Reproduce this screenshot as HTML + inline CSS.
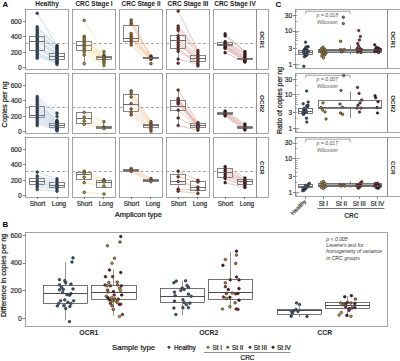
<!DOCTYPE html>
<html><head><meta charset="utf-8"><style>
html,body{margin:0;padding:0;background:#fff;width:400px;height:361px;overflow:hidden}
svg{display:block}
text{font-family:"Liberation Sans",sans-serif}
</style></head><body>
<svg width="400" height="361" viewBox="0 0 400 361">
<rect width="400" height="361" fill="#fff"/>
<rect x="25.50" y="9.50" width="43.00" height="60.00" fill="none" stroke="#8c8c8c" stroke-width="0.8"/>
<rect x="72.50" y="9.50" width="43.00" height="60.00" fill="none" stroke="#8c8c8c" stroke-width="0.8"/>
<rect x="119.50" y="9.50" width="43.00" height="60.00" fill="none" stroke="#8c8c8c" stroke-width="0.8"/>
<rect x="166.50" y="9.50" width="43.00" height="60.00" fill="none" stroke="#8c8c8c" stroke-width="0.8"/>
<rect x="213.50" y="9.50" width="43.00" height="60.00" fill="none" stroke="#8c8c8c" stroke-width="0.8"/>
<rect x="256.50" y="9.50" width="12.00" height="60.00" fill="none" stroke="#8c8c8c" stroke-width="0.8"/>
<rect x="25.50" y="73.50" width="43.00" height="60.00" fill="none" stroke="#8c8c8c" stroke-width="0.8"/>
<rect x="72.50" y="73.50" width="43.00" height="60.00" fill="none" stroke="#8c8c8c" stroke-width="0.8"/>
<rect x="119.50" y="73.50" width="43.00" height="60.00" fill="none" stroke="#8c8c8c" stroke-width="0.8"/>
<rect x="166.50" y="73.50" width="43.00" height="60.00" fill="none" stroke="#8c8c8c" stroke-width="0.8"/>
<rect x="213.50" y="73.50" width="43.00" height="60.00" fill="none" stroke="#8c8c8c" stroke-width="0.8"/>
<rect x="256.50" y="73.50" width="12.00" height="60.00" fill="none" stroke="#8c8c8c" stroke-width="0.8"/>
<rect x="25.50" y="137.50" width="43.00" height="60.00" fill="none" stroke="#8c8c8c" stroke-width="0.8"/>
<rect x="72.50" y="137.50" width="43.00" height="60.00" fill="none" stroke="#8c8c8c" stroke-width="0.8"/>
<rect x="119.50" y="137.50" width="43.00" height="60.00" fill="none" stroke="#8c8c8c" stroke-width="0.8"/>
<rect x="166.50" y="137.50" width="43.00" height="60.00" fill="none" stroke="#8c8c8c" stroke-width="0.8"/>
<rect x="213.50" y="137.50" width="43.00" height="60.00" fill="none" stroke="#8c8c8c" stroke-width="0.8"/>
<rect x="256.50" y="137.50" width="12.00" height="60.00" fill="none" stroke="#8c8c8c" stroke-width="0.8"/>
<text x="47.05" y="5.70" font-size="6.5" text-anchor="middle" font-weight="bold" font-style="normal" fill="#1a1a1a"  >Healthy</text>
<text x="94.03" y="5.70" font-size="6.5" text-anchor="middle" font-weight="bold" font-style="normal" fill="#1a1a1a"  >CRC Stage I</text>
<text x="141.01" y="5.70" font-size="6.5" text-anchor="middle" font-weight="bold" font-style="normal" fill="#1a1a1a"  >CRC Stage II</text>
<text x="187.99" y="5.70" font-size="6.5" text-anchor="middle" font-weight="bold" font-style="normal" fill="#1a1a1a"  >CRC Stage III</text>
<text x="234.97" y="5.70" font-size="6.5" text-anchor="middle" font-weight="bold" font-style="normal" fill="#1a1a1a"  >CRC Stage IV</text>
<text x="262.40" y="39.75" font-size="6.2" text-anchor="middle" font-weight="bold" font-style="normal" fill="#1a1a1a"  transform="rotate(90 262.4 39.75)" dominant-baseline="central">OCR1</text>
<text x="262.40" y="103.70" font-size="6.2" text-anchor="middle" font-weight="bold" font-style="normal" fill="#1a1a1a"  transform="rotate(90 262.4 103.69999999999999)" dominant-baseline="central">OCR2</text>
<text x="262.40" y="167.65" font-size="6.2" text-anchor="middle" font-weight="bold" font-style="normal" fill="#1a1a1a"  transform="rotate(90 262.4 167.65)" dominant-baseline="central">CCR</text>
<line x1="25.50" y1="43.50" x2="68.30" y2="43.50" stroke="#a3a3a3" stroke-width="1.0" stroke-dasharray="2.9,2.35"/>
<line x1="37.50" y1="27.00" x2="37.50" y2="36.00" stroke="#6a6a6a" stroke-width="0.7" />
<line x1="37.50" y1="50.80" x2="37.50" y2="58.60" stroke="#6a6a6a" stroke-width="0.7" />
<rect x="29.50" y="36.50" width="15.00" height="14.00" fill="#fff" stroke="#6a6a6a" stroke-width="0.7"/>
<line x1="29.50" y1="41.50" x2="44.90" y2="41.50" stroke="#6a6a6a" stroke-width="1.0" />
<line x1="57.50" y1="45.00" x2="57.50" y2="53.20" stroke="#6a6a6a" stroke-width="0.7" />
<line x1="57.50" y1="59.60" x2="57.50" y2="64.50" stroke="#6a6a6a" stroke-width="0.7" />
<rect x="49.50" y="53.50" width="15.00" height="6.00" fill="#fff" stroke="#6a6a6a" stroke-width="0.7"/>
<line x1="49.30" y1="56.50" x2="64.70" y2="56.50" stroke="#6a6a6a" stroke-width="1.0" />
<line x1="37.20" y1="13.30" x2="57.00" y2="45.60" stroke="#9cb8d9" stroke-width="0.55" stroke-opacity="0.95"/>
<line x1="37.20" y1="26.90" x2="57.00" y2="45.60" stroke="#9cb8d9" stroke-width="0.55" stroke-opacity="0.95"/>
<line x1="37.20" y1="28.64" x2="57.00" y2="46.65" stroke="#9cb8d9" stroke-width="0.55" stroke-opacity="0.95"/>
<line x1="37.20" y1="32.12" x2="57.00" y2="48.75" stroke="#9cb8d9" stroke-width="0.55" stroke-opacity="0.95"/>
<line x1="37.20" y1="33.86" x2="57.00" y2="49.80" stroke="#9cb8d9" stroke-width="0.55" stroke-opacity="0.95"/>
<line x1="37.20" y1="35.60" x2="57.00" y2="50.85" stroke="#9cb8d9" stroke-width="0.55" stroke-opacity="0.95"/>
<line x1="37.20" y1="39.08" x2="57.00" y2="52.95" stroke="#9cb8d9" stroke-width="0.55" stroke-opacity="0.95"/>
<line x1="37.20" y1="40.82" x2="57.00" y2="54.00" stroke="#9cb8d9" stroke-width="0.55" stroke-opacity="0.95"/>
<line x1="37.20" y1="42.56" x2="57.00" y2="55.05" stroke="#9cb8d9" stroke-width="0.55" stroke-opacity="0.95"/>
<line x1="37.20" y1="46.04" x2="57.00" y2="57.15" stroke="#9cb8d9" stroke-width="0.55" stroke-opacity="0.95"/>
<line x1="37.20" y1="47.78" x2="57.00" y2="58.20" stroke="#9cb8d9" stroke-width="0.55" stroke-opacity="0.95"/>
<line x1="37.20" y1="49.52" x2="57.00" y2="59.25" stroke="#9cb8d9" stroke-width="0.55" stroke-opacity="0.95"/>
<line x1="37.20" y1="53.00" x2="57.00" y2="61.35" stroke="#9cb8d9" stroke-width="0.55" stroke-opacity="0.95"/>
<line x1="37.20" y1="54.74" x2="57.00" y2="62.40" stroke="#9cb8d9" stroke-width="0.55" stroke-opacity="0.95"/>
<line x1="37.20" y1="56.48" x2="57.00" y2="63.45" stroke="#9cb8d9" stroke-width="0.55" stroke-opacity="0.95"/>
<circle cx="37.20" cy="13.30" r="1.35" fill="#3e5678" stroke="#1a1c20" stroke-width="0.6"/>
<circle cx="37.20" cy="26.90" r="1.35" fill="#3e5678" stroke="#1a1c20" stroke-width="0.6"/>
<circle cx="37.20" cy="28.64" r="1.35" fill="#3e5678" stroke="#1a1c20" stroke-width="0.6"/>
<circle cx="37.20" cy="30.38" r="1.35" fill="#3e5678" stroke="#1a1c20" stroke-width="0.6"/>
<circle cx="37.20" cy="32.12" r="1.35" fill="#3e5678" stroke="#1a1c20" stroke-width="0.6"/>
<circle cx="37.20" cy="33.86" r="1.35" fill="#3e5678" stroke="#1a1c20" stroke-width="0.6"/>
<circle cx="37.20" cy="35.60" r="1.35" fill="#3e5678" stroke="#1a1c20" stroke-width="0.6"/>
<circle cx="37.20" cy="37.34" r="1.35" fill="#3e5678" stroke="#1a1c20" stroke-width="0.6"/>
<circle cx="37.20" cy="39.08" r="1.35" fill="#3e5678" stroke="#1a1c20" stroke-width="0.6"/>
<circle cx="37.20" cy="40.82" r="1.35" fill="#3e5678" stroke="#1a1c20" stroke-width="0.6"/>
<circle cx="37.20" cy="42.56" r="1.35" fill="#3e5678" stroke="#1a1c20" stroke-width="0.6"/>
<circle cx="37.20" cy="44.30" r="1.35" fill="#3e5678" stroke="#1a1c20" stroke-width="0.6"/>
<circle cx="37.20" cy="46.04" r="1.35" fill="#3e5678" stroke="#1a1c20" stroke-width="0.6"/>
<circle cx="37.20" cy="47.78" r="1.35" fill="#3e5678" stroke="#1a1c20" stroke-width="0.6"/>
<circle cx="37.20" cy="49.52" r="1.35" fill="#3e5678" stroke="#1a1c20" stroke-width="0.6"/>
<circle cx="37.20" cy="51.26" r="1.35" fill="#3e5678" stroke="#1a1c20" stroke-width="0.6"/>
<circle cx="37.20" cy="53.00" r="1.35" fill="#3e5678" stroke="#1a1c20" stroke-width="0.6"/>
<circle cx="37.20" cy="54.74" r="1.35" fill="#3e5678" stroke="#1a1c20" stroke-width="0.6"/>
<circle cx="37.20" cy="56.48" r="1.35" fill="#3e5678" stroke="#1a1c20" stroke-width="0.6"/>
<circle cx="37.20" cy="58.22" r="1.35" fill="#3e5678" stroke="#1a1c20" stroke-width="0.6"/>
<circle cx="57.00" cy="45.60" r="1.35" fill="#3e5678" stroke="#1a1c20" stroke-width="0.6"/>
<circle cx="57.00" cy="46.65" r="1.35" fill="#3e5678" stroke="#1a1c20" stroke-width="0.6"/>
<circle cx="57.00" cy="47.70" r="1.35" fill="#3e5678" stroke="#1a1c20" stroke-width="0.6"/>
<circle cx="57.00" cy="48.75" r="1.35" fill="#3e5678" stroke="#1a1c20" stroke-width="0.6"/>
<circle cx="57.00" cy="49.80" r="1.35" fill="#3e5678" stroke="#1a1c20" stroke-width="0.6"/>
<circle cx="57.00" cy="50.85" r="1.35" fill="#3e5678" stroke="#1a1c20" stroke-width="0.6"/>
<circle cx="57.00" cy="51.90" r="1.35" fill="#3e5678" stroke="#1a1c20" stroke-width="0.6"/>
<circle cx="57.00" cy="52.95" r="1.35" fill="#3e5678" stroke="#1a1c20" stroke-width="0.6"/>
<circle cx="57.00" cy="54.00" r="1.35" fill="#3e5678" stroke="#1a1c20" stroke-width="0.6"/>
<circle cx="57.00" cy="55.05" r="1.35" fill="#3e5678" stroke="#1a1c20" stroke-width="0.6"/>
<circle cx="57.00" cy="56.10" r="1.35" fill="#3e5678" stroke="#1a1c20" stroke-width="0.6"/>
<circle cx="57.00" cy="57.15" r="1.35" fill="#3e5678" stroke="#1a1c20" stroke-width="0.6"/>
<circle cx="57.00" cy="58.20" r="1.35" fill="#3e5678" stroke="#1a1c20" stroke-width="0.6"/>
<circle cx="57.00" cy="59.25" r="1.35" fill="#3e5678" stroke="#1a1c20" stroke-width="0.6"/>
<circle cx="57.00" cy="60.30" r="1.35" fill="#3e5678" stroke="#1a1c20" stroke-width="0.6"/>
<circle cx="57.00" cy="61.35" r="1.35" fill="#3e5678" stroke="#1a1c20" stroke-width="0.6"/>
<circle cx="57.00" cy="62.40" r="1.35" fill="#3e5678" stroke="#1a1c20" stroke-width="0.6"/>
<circle cx="57.00" cy="63.45" r="1.35" fill="#3e5678" stroke="#1a1c20" stroke-width="0.6"/>
<circle cx="57.00" cy="64.50" r="1.35" fill="#3e5678" stroke="#1a1c20" stroke-width="0.6"/>
<g opacity="0.55">
<rect x="29.50" y="36.50" width="15.00" height="14.00" fill="none" stroke="#6a6a6a" stroke-width="0.7"/>
<line x1="29.50" y1="41.50" x2="44.90" y2="41.50" stroke="#6a6a6a" stroke-width="1.0" />
<rect x="49.50" y="53.50" width="15.00" height="6.00" fill="none" stroke="#6a6a6a" stroke-width="0.7"/>
<line x1="49.30" y1="56.50" x2="64.70" y2="56.50" stroke="#6a6a6a" stroke-width="1.0" />
</g>
<line x1="72.48" y1="43.50" x2="115.28" y2="43.50" stroke="#a3a3a3" stroke-width="1.0" stroke-dasharray="2.9,2.35"/>
<line x1="84.50" y1="36.30" x2="84.50" y2="41.00" stroke="#6a6a6a" stroke-width="0.7" />
<line x1="84.50" y1="50.00" x2="84.50" y2="63.70" stroke="#6a6a6a" stroke-width="0.7" />
<rect x="76.50" y="41.50" width="15.00" height="9.00" fill="#fff" stroke="#6a6a6a" stroke-width="0.7"/>
<line x1="76.48" y1="45.50" x2="91.88" y2="45.50" stroke="#6a6a6a" stroke-width="1.0" />
<line x1="103.50" y1="51.70" x2="103.50" y2="56.00" stroke="#6a6a6a" stroke-width="0.7" />
<line x1="103.50" y1="59.50" x2="103.50" y2="65.50" stroke="#6a6a6a" stroke-width="0.7" />
<rect x="96.50" y="56.50" width="15.00" height="3.00" fill="#fff" stroke="#6a6a6a" stroke-width="0.7"/>
<line x1="96.28" y1="57.50" x2="111.68" y2="57.50" stroke="#6a6a6a" stroke-width="1.0" />
<line x1="84.18" y1="20.40" x2="103.98" y2="51.70" stroke="#f1d68c" stroke-width="0.55" stroke-opacity="0.95"/>
<line x1="84.18" y1="36.30" x2="103.98" y2="55.00" stroke="#f1d68c" stroke-width="0.55" stroke-opacity="0.95"/>
<line x1="84.18" y1="38.00" x2="103.98" y2="56.50" stroke="#f1d68c" stroke-width="0.55" stroke-opacity="0.95"/>
<line x1="84.18" y1="40.00" x2="103.98" y2="57.00" stroke="#f1d68c" stroke-width="0.55" stroke-opacity="0.95"/>
<line x1="84.18" y1="42.00" x2="103.98" y2="57.50" stroke="#f1d68c" stroke-width="0.55" stroke-opacity="0.95"/>
<line x1="84.18" y1="44.00" x2="103.98" y2="58.00" stroke="#f1d68c" stroke-width="0.55" stroke-opacity="0.95"/>
<line x1="84.18" y1="46.00" x2="103.98" y2="58.50" stroke="#f1d68c" stroke-width="0.55" stroke-opacity="0.95"/>
<line x1="84.18" y1="48.00" x2="103.98" y2="58.80" stroke="#f1d68c" stroke-width="0.55" stroke-opacity="0.95"/>
<line x1="84.18" y1="50.00" x2="103.98" y2="59.50" stroke="#f1d68c" stroke-width="0.55" stroke-opacity="0.95"/>
<line x1="84.18" y1="52.00" x2="103.98" y2="61.00" stroke="#f1d68c" stroke-width="0.55" stroke-opacity="0.95"/>
<line x1="84.18" y1="55.00" x2="103.98" y2="63.00" stroke="#f1d68c" stroke-width="0.55" stroke-opacity="0.95"/>
<circle cx="84.18" cy="20.40" r="1.35" fill="#c29c2c" stroke="#1a1c20" stroke-width="0.6"/>
<circle cx="84.18" cy="36.30" r="1.35" fill="#c29c2c" stroke="#1a1c20" stroke-width="0.6"/>
<circle cx="84.18" cy="38.00" r="1.35" fill="#c29c2c" stroke="#1a1c20" stroke-width="0.6"/>
<circle cx="84.18" cy="40.00" r="1.35" fill="#c29c2c" stroke="#1a1c20" stroke-width="0.6"/>
<circle cx="84.18" cy="42.00" r="1.35" fill="#c29c2c" stroke="#1a1c20" stroke-width="0.6"/>
<circle cx="84.18" cy="44.00" r="1.35" fill="#c29c2c" stroke="#1a1c20" stroke-width="0.6"/>
<circle cx="84.18" cy="46.00" r="1.35" fill="#c29c2c" stroke="#1a1c20" stroke-width="0.6"/>
<circle cx="84.18" cy="48.00" r="1.35" fill="#c29c2c" stroke="#1a1c20" stroke-width="0.6"/>
<circle cx="84.18" cy="50.00" r="1.35" fill="#c29c2c" stroke="#1a1c20" stroke-width="0.6"/>
<circle cx="84.18" cy="52.00" r="1.35" fill="#c29c2c" stroke="#1a1c20" stroke-width="0.6"/>
<circle cx="84.18" cy="55.00" r="1.35" fill="#c29c2c" stroke="#1a1c20" stroke-width="0.6"/>
<circle cx="84.18" cy="63.70" r="1.35" fill="#c29c2c" stroke="#1a1c20" stroke-width="0.6"/>
<circle cx="103.98" cy="51.70" r="1.35" fill="#c29c2c" stroke="#1a1c20" stroke-width="0.6"/>
<circle cx="103.98" cy="55.00" r="1.35" fill="#c29c2c" stroke="#1a1c20" stroke-width="0.6"/>
<circle cx="103.98" cy="56.50" r="1.35" fill="#c29c2c" stroke="#1a1c20" stroke-width="0.6"/>
<circle cx="103.98" cy="57.50" r="1.35" fill="#c29c2c" stroke="#1a1c20" stroke-width="0.6"/>
<circle cx="103.98" cy="58.50" r="1.35" fill="#c29c2c" stroke="#1a1c20" stroke-width="0.6"/>
<circle cx="103.98" cy="59.50" r="1.35" fill="#c29c2c" stroke="#1a1c20" stroke-width="0.6"/>
<circle cx="103.98" cy="61.00" r="1.35" fill="#c29c2c" stroke="#1a1c20" stroke-width="0.6"/>
<circle cx="103.98" cy="63.00" r="1.35" fill="#c29c2c" stroke="#1a1c20" stroke-width="0.6"/>
<circle cx="103.98" cy="65.50" r="1.35" fill="#c29c2c" stroke="#1a1c20" stroke-width="0.6"/>
<circle cx="103.98" cy="57.00" r="1.35" fill="#c29c2c" stroke="#1a1c20" stroke-width="0.6"/>
<circle cx="103.98" cy="58.00" r="1.35" fill="#c29c2c" stroke="#1a1c20" stroke-width="0.6"/>
<circle cx="103.98" cy="58.80" r="1.35" fill="#c29c2c" stroke="#1a1c20" stroke-width="0.6"/>
<g opacity="0.55">
<rect x="76.50" y="41.50" width="15.00" height="9.00" fill="none" stroke="#6a6a6a" stroke-width="0.7"/>
<line x1="76.48" y1="45.50" x2="91.88" y2="45.50" stroke="#6a6a6a" stroke-width="1.0" />
<rect x="96.50" y="56.50" width="15.00" height="3.00" fill="none" stroke="#6a6a6a" stroke-width="0.7"/>
<line x1="96.28" y1="57.50" x2="111.68" y2="57.50" stroke="#6a6a6a" stroke-width="1.0" />
</g>
<line x1="119.46" y1="43.50" x2="162.26" y2="43.50" stroke="#a3a3a3" stroke-width="1.0" stroke-dasharray="2.9,2.35"/>
<line x1="131.50" y1="20.00" x2="131.50" y2="25.70" stroke="#6a6a6a" stroke-width="0.7" />
<line x1="131.50" y1="41.10" x2="131.50" y2="44.90" stroke="#6a6a6a" stroke-width="0.7" />
<rect x="123.50" y="25.50" width="15.00" height="16.00" fill="#fff" stroke="#6a6a6a" stroke-width="0.7"/>
<line x1="123.46" y1="38.50" x2="138.86" y2="38.50" stroke="#6a6a6a" stroke-width="1.0" />
<line x1="150.50" y1="56.00" x2="150.50" y2="57.00" stroke="#6a6a6a" stroke-width="0.7" />
<line x1="150.50" y1="58.40" x2="150.50" y2="59.50" stroke="#6a6a6a" stroke-width="0.7" />
<rect x="143.50" y="57.50" width="15.00" height="1.00" fill="#fff" stroke="#6a6a6a" stroke-width="0.7"/>
<line x1="143.26" y1="57.50" x2="158.66" y2="57.50" stroke="#6a6a6a" stroke-width="1.0" />
<line x1="131.16" y1="20.00" x2="150.96" y2="56.00" stroke="#f0b277" stroke-width="0.55" stroke-opacity="0.95"/>
<line x1="131.16" y1="22.60" x2="150.96" y2="57.00" stroke="#f0b277" stroke-width="0.55" stroke-opacity="0.95"/>
<line x1="131.16" y1="24.30" x2="150.96" y2="57.30" stroke="#f0b277" stroke-width="0.55" stroke-opacity="0.95"/>
<line x1="131.16" y1="33.70" x2="150.96" y2="57.70" stroke="#f0b277" stroke-width="0.55" stroke-opacity="0.95"/>
<line x1="131.16" y1="36.00" x2="150.96" y2="58.00" stroke="#f0b277" stroke-width="0.55" stroke-opacity="0.95"/>
<line x1="131.16" y1="38.00" x2="150.96" y2="58.30" stroke="#f0b277" stroke-width="0.55" stroke-opacity="0.95"/>
<line x1="131.16" y1="40.00" x2="150.96" y2="58.50" stroke="#f0b277" stroke-width="0.55" stroke-opacity="0.95"/>
<line x1="131.16" y1="42.00" x2="150.96" y2="59.50" stroke="#f0b277" stroke-width="0.55" stroke-opacity="0.95"/>
<line x1="131.16" y1="44.90" x2="150.96" y2="63.70" stroke="#f0b277" stroke-width="0.55" stroke-opacity="0.95"/>
<circle cx="131.16" cy="20.00" r="1.35" fill="#bc702a" stroke="#1a1c20" stroke-width="0.6"/>
<circle cx="131.16" cy="22.60" r="1.35" fill="#bc702a" stroke="#1a1c20" stroke-width="0.6"/>
<circle cx="131.16" cy="24.30" r="1.35" fill="#bc702a" stroke="#1a1c20" stroke-width="0.6"/>
<circle cx="131.16" cy="33.70" r="1.35" fill="#bc702a" stroke="#1a1c20" stroke-width="0.6"/>
<circle cx="131.16" cy="36.00" r="1.35" fill="#bc702a" stroke="#1a1c20" stroke-width="0.6"/>
<circle cx="131.16" cy="38.00" r="1.35" fill="#bc702a" stroke="#1a1c20" stroke-width="0.6"/>
<circle cx="131.16" cy="40.00" r="1.35" fill="#bc702a" stroke="#1a1c20" stroke-width="0.6"/>
<circle cx="131.16" cy="42.00" r="1.35" fill="#bc702a" stroke="#1a1c20" stroke-width="0.6"/>
<circle cx="131.16" cy="44.90" r="1.35" fill="#bc702a" stroke="#1a1c20" stroke-width="0.6"/>
<circle cx="150.96" cy="56.00" r="1.35" fill="#bc702a" stroke="#1a1c20" stroke-width="0.6"/>
<circle cx="150.96" cy="57.00" r="1.35" fill="#bc702a" stroke="#1a1c20" stroke-width="0.6"/>
<circle cx="150.96" cy="57.70" r="1.35" fill="#bc702a" stroke="#1a1c20" stroke-width="0.6"/>
<circle cx="150.96" cy="58.50" r="1.35" fill="#bc702a" stroke="#1a1c20" stroke-width="0.6"/>
<circle cx="150.96" cy="59.50" r="1.35" fill="#bc702a" stroke="#1a1c20" stroke-width="0.6"/>
<circle cx="150.96" cy="63.70" r="1.35" fill="#bc702a" stroke="#1a1c20" stroke-width="0.6"/>
<circle cx="150.96" cy="57.30" r="1.35" fill="#bc702a" stroke="#1a1c20" stroke-width="0.6"/>
<circle cx="150.96" cy="58.00" r="1.35" fill="#bc702a" stroke="#1a1c20" stroke-width="0.6"/>
<circle cx="150.96" cy="58.30" r="1.35" fill="#bc702a" stroke="#1a1c20" stroke-width="0.6"/>
<g opacity="0.55">
<rect x="123.50" y="25.50" width="15.00" height="16.00" fill="none" stroke="#6a6a6a" stroke-width="0.7"/>
<line x1="123.46" y1="38.50" x2="138.86" y2="38.50" stroke="#6a6a6a" stroke-width="1.0" />
<rect x="143.50" y="57.50" width="15.00" height="1.00" fill="none" stroke="#6a6a6a" stroke-width="0.7"/>
<line x1="143.26" y1="57.50" x2="158.66" y2="57.50" stroke="#6a6a6a" stroke-width="1.0" />
</g>
<line x1="166.44" y1="43.50" x2="209.24" y2="43.50" stroke="#a3a3a3" stroke-width="1.0" stroke-dasharray="2.9,2.35"/>
<line x1="178.50" y1="25.70" x2="178.50" y2="35.10" stroke="#6a6a6a" stroke-width="0.7" />
<line x1="178.50" y1="48.30" x2="178.50" y2="59.50" stroke="#6a6a6a" stroke-width="0.7" />
<rect x="170.50" y="35.50" width="15.00" height="13.00" fill="#fff" stroke="#6a6a6a" stroke-width="0.7"/>
<line x1="170.44" y1="40.50" x2="185.84" y2="40.50" stroke="#6a6a6a" stroke-width="1.0" />
<line x1="197.50" y1="50.00" x2="197.50" y2="55.70" stroke="#6a6a6a" stroke-width="0.7" />
<line x1="197.50" y1="61.50" x2="197.50" y2="66.30" stroke="#6a6a6a" stroke-width="0.7" />
<rect x="190.50" y="55.50" width="15.00" height="6.00" fill="#fff" stroke="#6a6a6a" stroke-width="0.7"/>
<line x1="190.24" y1="58.50" x2="205.64" y2="58.50" stroke="#6a6a6a" stroke-width="1.0" />
<line x1="178.14" y1="11.10" x2="197.94" y2="50.50" stroke="#de8b82" stroke-width="0.55" stroke-opacity="0.95"/>
<line x1="178.14" y1="26.00" x2="197.94" y2="50.50" stroke="#de8b82" stroke-width="0.55" stroke-opacity="0.95"/>
<line x1="178.14" y1="28.20" x2="197.94" y2="52.50" stroke="#de8b82" stroke-width="0.55" stroke-opacity="0.95"/>
<line x1="178.14" y1="30.40" x2="197.94" y2="54.50" stroke="#de8b82" stroke-width="0.55" stroke-opacity="0.95"/>
<line x1="178.14" y1="38.00" x2="197.94" y2="56.30" stroke="#de8b82" stroke-width="0.55" stroke-opacity="0.95"/>
<line x1="178.14" y1="40.20" x2="197.94" y2="58.00" stroke="#de8b82" stroke-width="0.55" stroke-opacity="0.95"/>
<line x1="178.14" y1="42.40" x2="197.94" y2="59.60" stroke="#de8b82" stroke-width="0.55" stroke-opacity="0.95"/>
<line x1="178.14" y1="44.60" x2="197.94" y2="59.60" stroke="#de8b82" stroke-width="0.55" stroke-opacity="0.95"/>
<line x1="178.14" y1="49.00" x2="197.94" y2="62.80" stroke="#de8b82" stroke-width="0.55" stroke-opacity="0.95"/>
<line x1="178.14" y1="51.20" x2="197.94" y2="62.80" stroke="#de8b82" stroke-width="0.55" stroke-opacity="0.95"/>
<line x1="178.14" y1="59.10" x2="197.94" y2="64.50" stroke="#de8b82" stroke-width="0.55" stroke-opacity="0.95"/>
<circle cx="178.14" cy="11.10" r="1.35" fill="#922d25" stroke="#1a1c20" stroke-width="0.6"/>
<circle cx="178.14" cy="26.00" r="1.35" fill="#922d25" stroke="#1a1c20" stroke-width="0.6"/>
<circle cx="178.14" cy="28.20" r="1.35" fill="#922d25" stroke="#1a1c20" stroke-width="0.6"/>
<circle cx="178.14" cy="30.40" r="1.35" fill="#922d25" stroke="#1a1c20" stroke-width="0.6"/>
<circle cx="178.14" cy="35.80" r="1.35" fill="#922d25" stroke="#1a1c20" stroke-width="0.6"/>
<circle cx="178.14" cy="38.00" r="1.35" fill="#922d25" stroke="#1a1c20" stroke-width="0.6"/>
<circle cx="178.14" cy="40.20" r="1.35" fill="#922d25" stroke="#1a1c20" stroke-width="0.6"/>
<circle cx="178.14" cy="42.40" r="1.35" fill="#922d25" stroke="#1a1c20" stroke-width="0.6"/>
<circle cx="178.14" cy="44.60" r="1.35" fill="#922d25" stroke="#1a1c20" stroke-width="0.6"/>
<circle cx="178.14" cy="46.80" r="1.35" fill="#922d25" stroke="#1a1c20" stroke-width="0.6"/>
<circle cx="178.14" cy="49.00" r="1.35" fill="#922d25" stroke="#1a1c20" stroke-width="0.6"/>
<circle cx="178.14" cy="51.20" r="1.35" fill="#922d25" stroke="#1a1c20" stroke-width="0.6"/>
<circle cx="178.14" cy="59.10" r="1.35" fill="#922d25" stroke="#1a1c20" stroke-width="0.6"/>
<circle cx="178.14" cy="63.20" r="1.35" fill="#922d25" stroke="#1a1c20" stroke-width="0.6"/>
<circle cx="197.94" cy="50.50" r="1.35" fill="#922d25" stroke="#1a1c20" stroke-width="0.6"/>
<circle cx="197.94" cy="52.50" r="1.35" fill="#922d25" stroke="#1a1c20" stroke-width="0.6"/>
<circle cx="197.94" cy="54.50" r="1.35" fill="#922d25" stroke="#1a1c20" stroke-width="0.6"/>
<circle cx="197.94" cy="56.30" r="1.35" fill="#922d25" stroke="#1a1c20" stroke-width="0.6"/>
<circle cx="197.94" cy="58.00" r="1.35" fill="#922d25" stroke="#1a1c20" stroke-width="0.6"/>
<circle cx="197.94" cy="59.60" r="1.35" fill="#922d25" stroke="#1a1c20" stroke-width="0.6"/>
<circle cx="197.94" cy="61.20" r="1.35" fill="#922d25" stroke="#1a1c20" stroke-width="0.6"/>
<circle cx="197.94" cy="62.80" r="1.35" fill="#922d25" stroke="#1a1c20" stroke-width="0.6"/>
<circle cx="197.94" cy="64.50" r="1.35" fill="#922d25" stroke="#1a1c20" stroke-width="0.6"/>
<circle cx="197.94" cy="66.00" r="1.35" fill="#922d25" stroke="#1a1c20" stroke-width="0.6"/>
<g opacity="0.55">
<rect x="170.50" y="35.50" width="15.00" height="13.00" fill="none" stroke="#6a6a6a" stroke-width="0.7"/>
<line x1="170.44" y1="40.50" x2="185.84" y2="40.50" stroke="#6a6a6a" stroke-width="1.0" />
<rect x="190.50" y="55.50" width="15.00" height="6.00" fill="none" stroke="#6a6a6a" stroke-width="0.7"/>
<line x1="190.24" y1="58.50" x2="205.64" y2="58.50" stroke="#6a6a6a" stroke-width="1.0" />
</g>
<line x1="213.42" y1="43.50" x2="256.22" y2="43.50" stroke="#a3a3a3" stroke-width="1.0" stroke-dasharray="2.9,2.35"/>
<rect x="217.50" y="42.50" width="15.00" height="3.00" fill="#fff" stroke="#6a6a6a" stroke-width="0.7"/>
<line x1="217.42" y1="44.50" x2="232.82" y2="44.50" stroke="#6a6a6a" stroke-width="1.0" />
<rect x="237.50" y="58.50" width="15.00" height="1.00" fill="#fff" stroke="#6a6a6a" stroke-width="0.7"/>
<line x1="237.22" y1="58.50" x2="252.62" y2="58.50" stroke="#6a6a6a" stroke-width="1.0" />
<line x1="225.12" y1="33.80" x2="244.92" y2="51.60" stroke="#cf8c8c" stroke-width="0.55" stroke-opacity="0.95"/>
<line x1="225.12" y1="35.90" x2="244.92" y2="51.60" stroke="#cf8c8c" stroke-width="0.55" stroke-opacity="0.95"/>
<line x1="225.12" y1="41.70" x2="244.92" y2="53.00" stroke="#cf8c8c" stroke-width="0.55" stroke-opacity="0.95"/>
<line x1="225.12" y1="42.70" x2="244.92" y2="54.50" stroke="#cf8c8c" stroke-width="0.55" stroke-opacity="0.95"/>
<line x1="225.12" y1="43.70" x2="244.92" y2="56.00" stroke="#cf8c8c" stroke-width="0.55" stroke-opacity="0.95"/>
<line x1="225.12" y1="44.70" x2="244.92" y2="57.50" stroke="#cf8c8c" stroke-width="0.55" stroke-opacity="0.95"/>
<line x1="225.12" y1="45.70" x2="244.92" y2="58.50" stroke="#cf8c8c" stroke-width="0.55" stroke-opacity="0.95"/>
<line x1="225.12" y1="46.70" x2="244.92" y2="59.50" stroke="#cf8c8c" stroke-width="0.55" stroke-opacity="0.95"/>
<line x1="225.12" y1="47.70" x2="244.92" y2="60.50" stroke="#cf8c8c" stroke-width="0.55" stroke-opacity="0.95"/>
<line x1="225.12" y1="48.50" x2="244.92" y2="61.30" stroke="#cf8c8c" stroke-width="0.55" stroke-opacity="0.95"/>
<line x1="225.12" y1="52.70" x2="244.92" y2="62.10" stroke="#cf8c8c" stroke-width="0.55" stroke-opacity="0.95"/>
<circle cx="225.12" cy="33.80" r="1.35" fill="#571313" stroke="#1a1c20" stroke-width="0.6"/>
<circle cx="225.12" cy="35.90" r="1.35" fill="#571313" stroke="#1a1c20" stroke-width="0.6"/>
<circle cx="225.12" cy="41.70" r="1.35" fill="#571313" stroke="#1a1c20" stroke-width="0.6"/>
<circle cx="225.12" cy="42.70" r="1.35" fill="#571313" stroke="#1a1c20" stroke-width="0.6"/>
<circle cx="225.12" cy="43.70" r="1.35" fill="#571313" stroke="#1a1c20" stroke-width="0.6"/>
<circle cx="225.12" cy="44.70" r="1.35" fill="#571313" stroke="#1a1c20" stroke-width="0.6"/>
<circle cx="225.12" cy="45.70" r="1.35" fill="#571313" stroke="#1a1c20" stroke-width="0.6"/>
<circle cx="225.12" cy="46.70" r="1.35" fill="#571313" stroke="#1a1c20" stroke-width="0.6"/>
<circle cx="225.12" cy="47.70" r="1.35" fill="#571313" stroke="#1a1c20" stroke-width="0.6"/>
<circle cx="225.12" cy="48.50" r="1.35" fill="#571313" stroke="#1a1c20" stroke-width="0.6"/>
<circle cx="225.12" cy="52.70" r="1.35" fill="#571313" stroke="#1a1c20" stroke-width="0.6"/>
<circle cx="244.92" cy="51.60" r="1.35" fill="#571313" stroke="#1a1c20" stroke-width="0.6"/>
<circle cx="244.92" cy="53.00" r="1.35" fill="#571313" stroke="#1a1c20" stroke-width="0.6"/>
<circle cx="244.92" cy="54.50" r="1.35" fill="#571313" stroke="#1a1c20" stroke-width="0.6"/>
<circle cx="244.92" cy="56.00" r="1.35" fill="#571313" stroke="#1a1c20" stroke-width="0.6"/>
<circle cx="244.92" cy="57.50" r="1.35" fill="#571313" stroke="#1a1c20" stroke-width="0.6"/>
<circle cx="244.92" cy="58.50" r="1.35" fill="#571313" stroke="#1a1c20" stroke-width="0.6"/>
<circle cx="244.92" cy="59.50" r="1.35" fill="#571313" stroke="#1a1c20" stroke-width="0.6"/>
<circle cx="244.92" cy="60.50" r="1.35" fill="#571313" stroke="#1a1c20" stroke-width="0.6"/>
<circle cx="244.92" cy="61.30" r="1.35" fill="#571313" stroke="#1a1c20" stroke-width="0.6"/>
<circle cx="244.92" cy="62.10" r="1.35" fill="#571313" stroke="#1a1c20" stroke-width="0.6"/>
<g opacity="0.55">
<rect x="217.50" y="42.50" width="15.00" height="3.00" fill="none" stroke="#6a6a6a" stroke-width="0.7"/>
<line x1="217.42" y1="44.50" x2="232.82" y2="44.50" stroke="#6a6a6a" stroke-width="1.0" />
<rect x="237.50" y="58.50" width="15.00" height="1.00" fill="none" stroke="#6a6a6a" stroke-width="0.7"/>
<line x1="237.22" y1="58.50" x2="252.62" y2="58.50" stroke="#6a6a6a" stroke-width="1.0" />
</g>
<line x1="25.50" y1="107.50" x2="68.30" y2="107.50" stroke="#a3a3a3" stroke-width="1.0" stroke-dasharray="2.9,2.35"/>
<line x1="37.50" y1="95.20" x2="37.50" y2="106.30" stroke="#6a6a6a" stroke-width="0.7" />
<line x1="37.50" y1="117.50" x2="37.50" y2="125.50" stroke="#6a6a6a" stroke-width="0.7" />
<rect x="29.50" y="106.50" width="15.00" height="11.00" fill="#fff" stroke="#6a6a6a" stroke-width="0.7"/>
<line x1="29.50" y1="115.50" x2="44.90" y2="115.50" stroke="#6a6a6a" stroke-width="1.0" />
<line x1="57.50" y1="113.20" x2="57.50" y2="123.50" stroke="#6a6a6a" stroke-width="0.7" />
<line x1="57.50" y1="127.20" x2="57.50" y2="131.20" stroke="#6a6a6a" stroke-width="0.7" />
<rect x="49.50" y="123.50" width="15.00" height="4.00" fill="#fff" stroke="#6a6a6a" stroke-width="0.7"/>
<line x1="49.30" y1="125.50" x2="64.70" y2="125.50" stroke="#6a6a6a" stroke-width="1.0" />
<line x1="37.20" y1="96.60" x2="57.00" y2="113.20" stroke="#9cb8d9" stroke-width="0.55" stroke-opacity="0.95"/>
<line x1="37.20" y1="98.53" x2="57.00" y2="116.50" stroke="#9cb8d9" stroke-width="0.55" stroke-opacity="0.95"/>
<line x1="37.20" y1="100.46" x2="57.00" y2="120.50" stroke="#9cb8d9" stroke-width="0.55" stroke-opacity="0.95"/>
<line x1="37.20" y1="102.39" x2="57.00" y2="121.30" stroke="#9cb8d9" stroke-width="0.55" stroke-opacity="0.95"/>
<line x1="37.20" y1="104.32" x2="57.00" y2="122.10" stroke="#9cb8d9" stroke-width="0.55" stroke-opacity="0.95"/>
<line x1="37.20" y1="106.25" x2="57.00" y2="122.90" stroke="#9cb8d9" stroke-width="0.55" stroke-opacity="0.95"/>
<line x1="37.20" y1="108.18" x2="57.00" y2="123.70" stroke="#9cb8d9" stroke-width="0.55" stroke-opacity="0.95"/>
<line x1="37.20" y1="110.11" x2="57.00" y2="124.50" stroke="#9cb8d9" stroke-width="0.55" stroke-opacity="0.95"/>
<line x1="37.20" y1="112.04" x2="57.00" y2="125.30" stroke="#9cb8d9" stroke-width="0.55" stroke-opacity="0.95"/>
<line x1="37.20" y1="113.97" x2="57.00" y2="126.10" stroke="#9cb8d9" stroke-width="0.55" stroke-opacity="0.95"/>
<line x1="37.20" y1="115.90" x2="57.00" y2="126.90" stroke="#9cb8d9" stroke-width="0.55" stroke-opacity="0.95"/>
<line x1="37.20" y1="117.83" x2="57.00" y2="127.70" stroke="#9cb8d9" stroke-width="0.55" stroke-opacity="0.95"/>
<line x1="37.20" y1="119.76" x2="57.00" y2="128.50" stroke="#9cb8d9" stroke-width="0.55" stroke-opacity="0.95"/>
<line x1="37.20" y1="121.69" x2="57.00" y2="129.30" stroke="#9cb8d9" stroke-width="0.55" stroke-opacity="0.95"/>
<line x1="37.20" y1="123.62" x2="57.00" y2="130.10" stroke="#9cb8d9" stroke-width="0.55" stroke-opacity="0.95"/>
<circle cx="37.20" cy="96.60" r="1.35" fill="#3e5678" stroke="#1a1c20" stroke-width="0.6"/>
<circle cx="37.20" cy="98.53" r="1.35" fill="#3e5678" stroke="#1a1c20" stroke-width="0.6"/>
<circle cx="37.20" cy="100.46" r="1.35" fill="#3e5678" stroke="#1a1c20" stroke-width="0.6"/>
<circle cx="37.20" cy="102.39" r="1.35" fill="#3e5678" stroke="#1a1c20" stroke-width="0.6"/>
<circle cx="37.20" cy="104.32" r="1.35" fill="#3e5678" stroke="#1a1c20" stroke-width="0.6"/>
<circle cx="37.20" cy="106.25" r="1.35" fill="#3e5678" stroke="#1a1c20" stroke-width="0.6"/>
<circle cx="37.20" cy="108.18" r="1.35" fill="#3e5678" stroke="#1a1c20" stroke-width="0.6"/>
<circle cx="37.20" cy="110.11" r="1.35" fill="#3e5678" stroke="#1a1c20" stroke-width="0.6"/>
<circle cx="37.20" cy="112.04" r="1.35" fill="#3e5678" stroke="#1a1c20" stroke-width="0.6"/>
<circle cx="37.20" cy="113.97" r="1.35" fill="#3e5678" stroke="#1a1c20" stroke-width="0.6"/>
<circle cx="37.20" cy="115.90" r="1.35" fill="#3e5678" stroke="#1a1c20" stroke-width="0.6"/>
<circle cx="37.20" cy="117.83" r="1.35" fill="#3e5678" stroke="#1a1c20" stroke-width="0.6"/>
<circle cx="37.20" cy="119.76" r="1.35" fill="#3e5678" stroke="#1a1c20" stroke-width="0.6"/>
<circle cx="37.20" cy="121.69" r="1.35" fill="#3e5678" stroke="#1a1c20" stroke-width="0.6"/>
<circle cx="37.20" cy="123.62" r="1.35" fill="#3e5678" stroke="#1a1c20" stroke-width="0.6"/>
<circle cx="37.20" cy="125.55" r="1.35" fill="#3e5678" stroke="#1a1c20" stroke-width="0.6"/>
<circle cx="57.00" cy="113.20" r="1.35" fill="#3e5678" stroke="#1a1c20" stroke-width="0.6"/>
<circle cx="57.00" cy="116.50" r="1.35" fill="#3e5678" stroke="#1a1c20" stroke-width="0.6"/>
<circle cx="57.00" cy="120.50" r="1.35" fill="#3e5678" stroke="#1a1c20" stroke-width="0.6"/>
<circle cx="57.00" cy="121.30" r="1.35" fill="#3e5678" stroke="#1a1c20" stroke-width="0.6"/>
<circle cx="57.00" cy="122.10" r="1.35" fill="#3e5678" stroke="#1a1c20" stroke-width="0.6"/>
<circle cx="57.00" cy="122.90" r="1.35" fill="#3e5678" stroke="#1a1c20" stroke-width="0.6"/>
<circle cx="57.00" cy="123.70" r="1.35" fill="#3e5678" stroke="#1a1c20" stroke-width="0.6"/>
<circle cx="57.00" cy="124.50" r="1.35" fill="#3e5678" stroke="#1a1c20" stroke-width="0.6"/>
<circle cx="57.00" cy="125.30" r="1.35" fill="#3e5678" stroke="#1a1c20" stroke-width="0.6"/>
<circle cx="57.00" cy="126.10" r="1.35" fill="#3e5678" stroke="#1a1c20" stroke-width="0.6"/>
<circle cx="57.00" cy="126.90" r="1.35" fill="#3e5678" stroke="#1a1c20" stroke-width="0.6"/>
<circle cx="57.00" cy="127.70" r="1.35" fill="#3e5678" stroke="#1a1c20" stroke-width="0.6"/>
<circle cx="57.00" cy="128.50" r="1.35" fill="#3e5678" stroke="#1a1c20" stroke-width="0.6"/>
<circle cx="57.00" cy="129.30" r="1.35" fill="#3e5678" stroke="#1a1c20" stroke-width="0.6"/>
<circle cx="57.00" cy="130.10" r="1.35" fill="#3e5678" stroke="#1a1c20" stroke-width="0.6"/>
<circle cx="57.00" cy="130.90" r="1.35" fill="#3e5678" stroke="#1a1c20" stroke-width="0.6"/>
<g opacity="0.55">
<rect x="29.50" y="106.50" width="15.00" height="11.00" fill="none" stroke="#6a6a6a" stroke-width="0.7"/>
<line x1="29.50" y1="115.50" x2="44.90" y2="115.50" stroke="#6a6a6a" stroke-width="1.0" />
<rect x="49.50" y="123.50" width="15.00" height="4.00" fill="none" stroke="#6a6a6a" stroke-width="0.7"/>
<line x1="49.30" y1="125.50" x2="64.70" y2="125.50" stroke="#6a6a6a" stroke-width="1.0" />
</g>
<line x1="72.48" y1="107.50" x2="115.28" y2="107.50" stroke="#a3a3a3" stroke-width="1.0" stroke-dasharray="2.9,2.35"/>
<line x1="84.50" y1="112.30" x2="84.50" y2="112.80" stroke="#6a6a6a" stroke-width="0.7" />
<line x1="84.50" y1="123.10" x2="84.50" y2="124.30" stroke="#6a6a6a" stroke-width="0.7" />
<rect x="76.50" y="112.50" width="15.00" height="11.00" fill="#fff" stroke="#6a6a6a" stroke-width="0.7"/>
<line x1="76.48" y1="118.50" x2="91.88" y2="118.50" stroke="#6a6a6a" stroke-width="1.0" />
<line x1="103.50" y1="121.70" x2="103.50" y2="126.80" stroke="#6a6a6a" stroke-width="0.7" />
<line x1="103.50" y1="128.50" x2="103.50" y2="128.50" stroke="#6a6a6a" stroke-width="0.7" />
<rect x="96.50" y="126.50" width="15.00" height="2.00" fill="#fff" stroke="#6a6a6a" stroke-width="0.7"/>
<line x1="96.28" y1="127.50" x2="111.68" y2="127.50" stroke="#6a6a6a" stroke-width="1.0" />
<line x1="84.18" y1="112.30" x2="103.98" y2="121.70" stroke="#f1d68c" stroke-width="0.55" stroke-opacity="0.95"/>
<line x1="84.18" y1="117.00" x2="103.98" y2="127.00" stroke="#f1d68c" stroke-width="0.55" stroke-opacity="0.95"/>
<line x1="84.18" y1="120.90" x2="103.98" y2="127.70" stroke="#f1d68c" stroke-width="0.55" stroke-opacity="0.95"/>
<line x1="84.18" y1="124.30" x2="103.98" y2="128.50" stroke="#f1d68c" stroke-width="0.55" stroke-opacity="0.95"/>
<circle cx="84.18" cy="112.30" r="1.35" fill="#c29c2c" stroke="#1a1c20" stroke-width="0.6"/>
<circle cx="84.18" cy="117.00" r="1.35" fill="#c29c2c" stroke="#1a1c20" stroke-width="0.6"/>
<circle cx="84.18" cy="120.90" r="1.35" fill="#c29c2c" stroke="#1a1c20" stroke-width="0.6"/>
<circle cx="84.18" cy="124.30" r="1.35" fill="#c29c2c" stroke="#1a1c20" stroke-width="0.6"/>
<circle cx="103.98" cy="121.70" r="1.35" fill="#c29c2c" stroke="#1a1c20" stroke-width="0.6"/>
<circle cx="103.98" cy="127.00" r="1.35" fill="#c29c2c" stroke="#1a1c20" stroke-width="0.6"/>
<circle cx="103.98" cy="127.70" r="1.35" fill="#c29c2c" stroke="#1a1c20" stroke-width="0.6"/>
<circle cx="103.98" cy="128.50" r="1.35" fill="#c29c2c" stroke="#1a1c20" stroke-width="0.6"/>
<g opacity="0.55">
<rect x="76.50" y="112.50" width="15.00" height="11.00" fill="none" stroke="#6a6a6a" stroke-width="0.7"/>
<line x1="76.48" y1="118.50" x2="91.88" y2="118.50" stroke="#6a6a6a" stroke-width="1.0" />
<rect x="96.50" y="126.50" width="15.00" height="2.00" fill="none" stroke="#6a6a6a" stroke-width="0.7"/>
<line x1="96.28" y1="127.50" x2="111.68" y2="127.50" stroke="#6a6a6a" stroke-width="1.0" />
</g>
<line x1="119.46" y1="107.50" x2="162.26" y2="107.50" stroke="#a3a3a3" stroke-width="1.0" stroke-dasharray="2.9,2.35"/>
<line x1="131.50" y1="90.90" x2="131.50" y2="94.30" stroke="#6a6a6a" stroke-width="0.7" />
<line x1="131.50" y1="111.80" x2="131.50" y2="114.90" stroke="#6a6a6a" stroke-width="0.7" />
<rect x="123.50" y="94.50" width="15.00" height="17.00" fill="#fff" stroke="#6a6a6a" stroke-width="0.7"/>
<line x1="123.46" y1="104.50" x2="138.86" y2="104.50" stroke="#6a6a6a" stroke-width="1.0" />
<line x1="150.50" y1="121.70" x2="150.50" y2="124.30" stroke="#6a6a6a" stroke-width="0.7" />
<line x1="150.50" y1="127.20" x2="150.50" y2="131.20" stroke="#6a6a6a" stroke-width="0.7" />
<rect x="143.50" y="124.50" width="15.00" height="3.00" fill="#fff" stroke="#6a6a6a" stroke-width="0.7"/>
<line x1="143.26" y1="125.50" x2="158.66" y2="125.50" stroke="#6a6a6a" stroke-width="1.0" />
<line x1="131.16" y1="90.90" x2="150.96" y2="121.70" stroke="#f0b277" stroke-width="0.55" stroke-opacity="0.95"/>
<line x1="131.16" y1="93.40" x2="150.96" y2="123.50" stroke="#f0b277" stroke-width="0.55" stroke-opacity="0.95"/>
<line x1="131.16" y1="96.90" x2="150.96" y2="125.00" stroke="#f0b277" stroke-width="0.55" stroke-opacity="0.95"/>
<line x1="131.16" y1="103.70" x2="150.96" y2="126.00" stroke="#f0b277" stroke-width="0.55" stroke-opacity="0.95"/>
<line x1="131.16" y1="108.90" x2="150.96" y2="127.50" stroke="#f0b277" stroke-width="0.55" stroke-opacity="0.95"/>
<line x1="131.16" y1="112.30" x2="150.96" y2="129.00" stroke="#f0b277" stroke-width="0.55" stroke-opacity="0.95"/>
<line x1="131.16" y1="114.90" x2="150.96" y2="131.20" stroke="#f0b277" stroke-width="0.55" stroke-opacity="0.95"/>
<circle cx="131.16" cy="90.90" r="1.35" fill="#bc702a" stroke="#1a1c20" stroke-width="0.6"/>
<circle cx="131.16" cy="93.40" r="1.35" fill="#bc702a" stroke="#1a1c20" stroke-width="0.6"/>
<circle cx="131.16" cy="96.90" r="1.35" fill="#bc702a" stroke="#1a1c20" stroke-width="0.6"/>
<circle cx="131.16" cy="103.70" r="1.35" fill="#bc702a" stroke="#1a1c20" stroke-width="0.6"/>
<circle cx="131.16" cy="108.90" r="1.35" fill="#bc702a" stroke="#1a1c20" stroke-width="0.6"/>
<circle cx="131.16" cy="112.30" r="1.35" fill="#bc702a" stroke="#1a1c20" stroke-width="0.6"/>
<circle cx="131.16" cy="114.90" r="1.35" fill="#bc702a" stroke="#1a1c20" stroke-width="0.6"/>
<circle cx="150.96" cy="121.70" r="1.35" fill="#bc702a" stroke="#1a1c20" stroke-width="0.6"/>
<circle cx="150.96" cy="123.50" r="1.35" fill="#bc702a" stroke="#1a1c20" stroke-width="0.6"/>
<circle cx="150.96" cy="125.00" r="1.35" fill="#bc702a" stroke="#1a1c20" stroke-width="0.6"/>
<circle cx="150.96" cy="126.00" r="1.35" fill="#bc702a" stroke="#1a1c20" stroke-width="0.6"/>
<circle cx="150.96" cy="127.50" r="1.35" fill="#bc702a" stroke="#1a1c20" stroke-width="0.6"/>
<circle cx="150.96" cy="129.00" r="1.35" fill="#bc702a" stroke="#1a1c20" stroke-width="0.6"/>
<circle cx="150.96" cy="131.20" r="1.35" fill="#bc702a" stroke="#1a1c20" stroke-width="0.6"/>
<g opacity="0.55">
<rect x="123.50" y="94.50" width="15.00" height="17.00" fill="none" stroke="#6a6a6a" stroke-width="0.7"/>
<line x1="123.46" y1="104.50" x2="138.86" y2="104.50" stroke="#6a6a6a" stroke-width="1.0" />
<rect x="143.50" y="124.50" width="15.00" height="3.00" fill="none" stroke="#6a6a6a" stroke-width="0.7"/>
<line x1="143.26" y1="125.50" x2="158.66" y2="125.50" stroke="#6a6a6a" stroke-width="1.0" />
</g>
<line x1="166.44" y1="107.50" x2="209.24" y2="107.50" stroke="#a3a3a3" stroke-width="1.0" stroke-dasharray="2.9,2.35"/>
<line x1="178.50" y1="90.00" x2="178.50" y2="100.00" stroke="#6a6a6a" stroke-width="0.7" />
<line x1="178.50" y1="110.10" x2="178.50" y2="125.50" stroke="#6a6a6a" stroke-width="0.7" />
<rect x="170.50" y="100.50" width="15.00" height="10.00" fill="#fff" stroke="#6a6a6a" stroke-width="0.7"/>
<line x1="170.44" y1="106.50" x2="185.84" y2="106.50" stroke="#6a6a6a" stroke-width="1.0" />
<line x1="197.50" y1="122.60" x2="197.50" y2="123.50" stroke="#6a6a6a" stroke-width="0.7" />
<line x1="197.50" y1="127.70" x2="197.50" y2="130.30" stroke="#6a6a6a" stroke-width="0.7" />
<rect x="190.50" y="123.50" width="15.00" height="4.00" fill="#fff" stroke="#6a6a6a" stroke-width="0.7"/>
<line x1="190.24" y1="125.50" x2="205.64" y2="125.50" stroke="#6a6a6a" stroke-width="1.0" />
<line x1="178.14" y1="90.00" x2="197.94" y2="122.60" stroke="#de8b82" stroke-width="0.55" stroke-opacity="0.95"/>
<line x1="178.14" y1="98.60" x2="197.94" y2="124.00" stroke="#de8b82" stroke-width="0.55" stroke-opacity="0.95"/>
<line x1="178.14" y1="100.00" x2="197.94" y2="125.00" stroke="#de8b82" stroke-width="0.55" stroke-opacity="0.95"/>
<line x1="178.14" y1="101.50" x2="197.94" y2="125.50" stroke="#de8b82" stroke-width="0.55" stroke-opacity="0.95"/>
<line x1="178.14" y1="103.00" x2="197.94" y2="126.00" stroke="#de8b82" stroke-width="0.55" stroke-opacity="0.95"/>
<line x1="178.14" y1="104.00" x2="197.94" y2="126.50" stroke="#de8b82" stroke-width="0.55" stroke-opacity="0.95"/>
<line x1="178.14" y1="110.10" x2="197.94" y2="127.00" stroke="#de8b82" stroke-width="0.55" stroke-opacity="0.95"/>
<line x1="178.14" y1="118.00" x2="197.94" y2="128.50" stroke="#de8b82" stroke-width="0.55" stroke-opacity="0.95"/>
<line x1="178.14" y1="125.50" x2="197.94" y2="130.30" stroke="#de8b82" stroke-width="0.55" stroke-opacity="0.95"/>
<circle cx="178.14" cy="90.00" r="1.35" fill="#922d25" stroke="#1a1c20" stroke-width="0.6"/>
<circle cx="178.14" cy="98.60" r="1.35" fill="#922d25" stroke="#1a1c20" stroke-width="0.6"/>
<circle cx="178.14" cy="100.00" r="1.35" fill="#922d25" stroke="#1a1c20" stroke-width="0.6"/>
<circle cx="178.14" cy="101.50" r="1.35" fill="#922d25" stroke="#1a1c20" stroke-width="0.6"/>
<circle cx="178.14" cy="103.00" r="1.35" fill="#922d25" stroke="#1a1c20" stroke-width="0.6"/>
<circle cx="178.14" cy="104.00" r="1.35" fill="#922d25" stroke="#1a1c20" stroke-width="0.6"/>
<circle cx="178.14" cy="110.10" r="1.35" fill="#922d25" stroke="#1a1c20" stroke-width="0.6"/>
<circle cx="178.14" cy="118.00" r="1.35" fill="#922d25" stroke="#1a1c20" stroke-width="0.6"/>
<circle cx="178.14" cy="125.50" r="1.35" fill="#922d25" stroke="#1a1c20" stroke-width="0.6"/>
<circle cx="197.94" cy="122.60" r="1.35" fill="#922d25" stroke="#1a1c20" stroke-width="0.6"/>
<circle cx="197.94" cy="124.00" r="1.35" fill="#922d25" stroke="#1a1c20" stroke-width="0.6"/>
<circle cx="197.94" cy="125.00" r="1.35" fill="#922d25" stroke="#1a1c20" stroke-width="0.6"/>
<circle cx="197.94" cy="126.00" r="1.35" fill="#922d25" stroke="#1a1c20" stroke-width="0.6"/>
<circle cx="197.94" cy="127.00" r="1.35" fill="#922d25" stroke="#1a1c20" stroke-width="0.6"/>
<circle cx="197.94" cy="128.50" r="1.35" fill="#922d25" stroke="#1a1c20" stroke-width="0.6"/>
<circle cx="197.94" cy="130.30" r="1.35" fill="#922d25" stroke="#1a1c20" stroke-width="0.6"/>
<circle cx="197.94" cy="125.50" r="1.35" fill="#922d25" stroke="#1a1c20" stroke-width="0.6"/>
<circle cx="197.94" cy="126.50" r="1.35" fill="#922d25" stroke="#1a1c20" stroke-width="0.6"/>
<g opacity="0.55">
<rect x="170.50" y="100.50" width="15.00" height="10.00" fill="none" stroke="#6a6a6a" stroke-width="0.7"/>
<line x1="170.44" y1="106.50" x2="185.84" y2="106.50" stroke="#6a6a6a" stroke-width="1.0" />
<rect x="190.50" y="123.50" width="15.00" height="4.00" fill="none" stroke="#6a6a6a" stroke-width="0.7"/>
<line x1="190.24" y1="125.50" x2="205.64" y2="125.50" stroke="#6a6a6a" stroke-width="1.0" />
</g>
<line x1="213.42" y1="107.50" x2="256.22" y2="107.50" stroke="#a3a3a3" stroke-width="1.0" stroke-dasharray="2.9,2.35"/>
<line x1="225.50" y1="111.00" x2="225.50" y2="112.50" stroke="#6a6a6a" stroke-width="0.7" />
<line x1="225.50" y1="114.00" x2="225.50" y2="116.00" stroke="#6a6a6a" stroke-width="0.7" />
<rect x="217.50" y="112.50" width="15.00" height="2.00" fill="#fff" stroke="#6a6a6a" stroke-width="0.7"/>
<line x1="217.42" y1="113.50" x2="232.82" y2="113.50" stroke="#6a6a6a" stroke-width="1.0" />
<line x1="244.50" y1="124.00" x2="244.50" y2="126.50" stroke="#6a6a6a" stroke-width="0.7" />
<line x1="244.50" y1="128.00" x2="244.50" y2="130.00" stroke="#6a6a6a" stroke-width="0.7" />
<rect x="237.50" y="126.50" width="15.00" height="2.00" fill="#fff" stroke="#6a6a6a" stroke-width="0.7"/>
<line x1="237.22" y1="127.50" x2="252.62" y2="127.50" stroke="#6a6a6a" stroke-width="1.0" />
<line x1="225.12" y1="111.00" x2="244.92" y2="124.00" stroke="#cf8c8c" stroke-width="0.55" stroke-opacity="0.95"/>
<line x1="225.12" y1="112.00" x2="244.92" y2="125.50" stroke="#cf8c8c" stroke-width="0.55" stroke-opacity="0.95"/>
<line x1="225.12" y1="113.00" x2="244.92" y2="127.00" stroke="#cf8c8c" stroke-width="0.55" stroke-opacity="0.95"/>
<line x1="225.12" y1="114.00" x2="244.92" y2="128.00" stroke="#cf8c8c" stroke-width="0.55" stroke-opacity="0.95"/>
<line x1="225.12" y1="115.00" x2="244.92" y2="129.00" stroke="#cf8c8c" stroke-width="0.55" stroke-opacity="0.95"/>
<line x1="225.12" y1="116.00" x2="244.92" y2="130.00" stroke="#cf8c8c" stroke-width="0.55" stroke-opacity="0.95"/>
<circle cx="225.12" cy="111.00" r="1.35" fill="#571313" stroke="#1a1c20" stroke-width="0.6"/>
<circle cx="225.12" cy="112.00" r="1.35" fill="#571313" stroke="#1a1c20" stroke-width="0.6"/>
<circle cx="225.12" cy="113.00" r="1.35" fill="#571313" stroke="#1a1c20" stroke-width="0.6"/>
<circle cx="225.12" cy="114.00" r="1.35" fill="#571313" stroke="#1a1c20" stroke-width="0.6"/>
<circle cx="225.12" cy="115.00" r="1.35" fill="#571313" stroke="#1a1c20" stroke-width="0.6"/>
<circle cx="225.12" cy="116.00" r="1.35" fill="#571313" stroke="#1a1c20" stroke-width="0.6"/>
<circle cx="244.92" cy="124.00" r="1.35" fill="#571313" stroke="#1a1c20" stroke-width="0.6"/>
<circle cx="244.92" cy="125.50" r="1.35" fill="#571313" stroke="#1a1c20" stroke-width="0.6"/>
<circle cx="244.92" cy="127.00" r="1.35" fill="#571313" stroke="#1a1c20" stroke-width="0.6"/>
<circle cx="244.92" cy="128.00" r="1.35" fill="#571313" stroke="#1a1c20" stroke-width="0.6"/>
<circle cx="244.92" cy="129.00" r="1.35" fill="#571313" stroke="#1a1c20" stroke-width="0.6"/>
<circle cx="244.92" cy="130.00" r="1.35" fill="#571313" stroke="#1a1c20" stroke-width="0.6"/>
<g opacity="0.55">
<rect x="217.50" y="112.50" width="15.00" height="2.00" fill="none" stroke="#6a6a6a" stroke-width="0.7"/>
<line x1="217.42" y1="113.50" x2="232.82" y2="113.50" stroke="#6a6a6a" stroke-width="1.0" />
<rect x="237.50" y="126.50" width="15.00" height="2.00" fill="none" stroke="#6a6a6a" stroke-width="0.7"/>
<line x1="237.22" y1="127.50" x2="252.62" y2="127.50" stroke="#6a6a6a" stroke-width="1.0" />
</g>
<line x1="25.50" y1="171.50" x2="68.30" y2="171.50" stroke="#a3a3a3" stroke-width="1.0" stroke-dasharray="2.9,2.35"/>
<line x1="37.50" y1="172.00" x2="37.50" y2="178.00" stroke="#6a6a6a" stroke-width="0.7" />
<line x1="37.50" y1="184.00" x2="37.50" y2="189.50" stroke="#6a6a6a" stroke-width="0.7" />
<rect x="29.50" y="178.50" width="15.00" height="6.00" fill="#fff" stroke="#6a6a6a" stroke-width="0.7"/>
<line x1="29.50" y1="181.50" x2="44.90" y2="181.50" stroke="#6a6a6a" stroke-width="1.0" />
<line x1="57.50" y1="178.90" x2="57.50" y2="182.00" stroke="#6a6a6a" stroke-width="0.7" />
<line x1="57.50" y1="187.80" x2="57.50" y2="191.20" stroke="#6a6a6a" stroke-width="0.7" />
<rect x="49.50" y="182.50" width="15.00" height="5.00" fill="#fff" stroke="#6a6a6a" stroke-width="0.7"/>
<line x1="49.30" y1="185.50" x2="64.70" y2="185.50" stroke="#6a6a6a" stroke-width="1.0" />
<line x1="37.20" y1="172.00" x2="57.00" y2="178.90" stroke="#9cb8d9" stroke-width="0.55" stroke-opacity="0.95"/>
<line x1="37.20" y1="176.00" x2="57.00" y2="181.00" stroke="#9cb8d9" stroke-width="0.55" stroke-opacity="0.95"/>
<line x1="37.20" y1="178.50" x2="57.00" y2="183.00" stroke="#9cb8d9" stroke-width="0.55" stroke-opacity="0.95"/>
<line x1="37.20" y1="181.00" x2="57.00" y2="185.00" stroke="#9cb8d9" stroke-width="0.55" stroke-opacity="0.95"/>
<line x1="37.20" y1="183.00" x2="57.00" y2="186.00" stroke="#9cb8d9" stroke-width="0.55" stroke-opacity="0.95"/>
<line x1="37.20" y1="185.00" x2="57.00" y2="187.00" stroke="#9cb8d9" stroke-width="0.55" stroke-opacity="0.95"/>
<line x1="37.20" y1="187.00" x2="57.00" y2="189.00" stroke="#9cb8d9" stroke-width="0.55" stroke-opacity="0.95"/>
<line x1="37.20" y1="189.50" x2="57.00" y2="191.20" stroke="#9cb8d9" stroke-width="0.55" stroke-opacity="0.95"/>
<circle cx="37.20" cy="172.00" r="1.35" fill="#3e5678" stroke="#1a1c20" stroke-width="0.6"/>
<circle cx="37.20" cy="176.00" r="1.35" fill="#3e5678" stroke="#1a1c20" stroke-width="0.6"/>
<circle cx="37.20" cy="178.50" r="1.35" fill="#3e5678" stroke="#1a1c20" stroke-width="0.6"/>
<circle cx="37.20" cy="181.00" r="1.35" fill="#3e5678" stroke="#1a1c20" stroke-width="0.6"/>
<circle cx="37.20" cy="183.00" r="1.35" fill="#3e5678" stroke="#1a1c20" stroke-width="0.6"/>
<circle cx="37.20" cy="185.00" r="1.35" fill="#3e5678" stroke="#1a1c20" stroke-width="0.6"/>
<circle cx="37.20" cy="187.00" r="1.35" fill="#3e5678" stroke="#1a1c20" stroke-width="0.6"/>
<circle cx="37.20" cy="189.50" r="1.35" fill="#3e5678" stroke="#1a1c20" stroke-width="0.6"/>
<circle cx="57.00" cy="178.90" r="1.35" fill="#3e5678" stroke="#1a1c20" stroke-width="0.6"/>
<circle cx="57.00" cy="181.00" r="1.35" fill="#3e5678" stroke="#1a1c20" stroke-width="0.6"/>
<circle cx="57.00" cy="183.00" r="1.35" fill="#3e5678" stroke="#1a1c20" stroke-width="0.6"/>
<circle cx="57.00" cy="185.00" r="1.35" fill="#3e5678" stroke="#1a1c20" stroke-width="0.6"/>
<circle cx="57.00" cy="187.00" r="1.35" fill="#3e5678" stroke="#1a1c20" stroke-width="0.6"/>
<circle cx="57.00" cy="189.00" r="1.35" fill="#3e5678" stroke="#1a1c20" stroke-width="0.6"/>
<circle cx="57.00" cy="191.20" r="1.35" fill="#3e5678" stroke="#1a1c20" stroke-width="0.6"/>
<circle cx="57.00" cy="186.00" r="1.35" fill="#3e5678" stroke="#1a1c20" stroke-width="0.6"/>
<g opacity="0.55">
<rect x="29.50" y="178.50" width="15.00" height="6.00" fill="none" stroke="#6a6a6a" stroke-width="0.7"/>
<line x1="29.50" y1="181.50" x2="44.90" y2="181.50" stroke="#6a6a6a" stroke-width="1.0" />
<rect x="49.50" y="182.50" width="15.00" height="5.00" fill="none" stroke="#6a6a6a" stroke-width="0.7"/>
<line x1="49.30" y1="185.50" x2="64.70" y2="185.50" stroke="#6a6a6a" stroke-width="1.0" />
</g>
<line x1="72.48" y1="171.50" x2="115.28" y2="171.50" stroke="#a3a3a3" stroke-width="1.0" stroke-dasharray="2.9,2.35"/>
<line x1="84.50" y1="171.20" x2="84.50" y2="172.00" stroke="#6a6a6a" stroke-width="0.7" />
<line x1="84.50" y1="179.70" x2="84.50" y2="182.70" stroke="#6a6a6a" stroke-width="0.7" />
<rect x="76.50" y="172.50" width="15.00" height="7.00" fill="#fff" stroke="#6a6a6a" stroke-width="0.7"/>
<line x1="76.48" y1="174.50" x2="91.88" y2="174.50" stroke="#6a6a6a" stroke-width="1.0" />
<line x1="103.50" y1="179.70" x2="103.50" y2="180.30" stroke="#6a6a6a" stroke-width="0.7" />
<line x1="103.50" y1="187.50" x2="103.50" y2="187.50" stroke="#6a6a6a" stroke-width="0.7" />
<rect x="96.50" y="180.50" width="15.00" height="7.00" fill="#fff" stroke="#6a6a6a" stroke-width="0.7"/>
<line x1="96.28" y1="182.50" x2="111.68" y2="182.50" stroke="#6a6a6a" stroke-width="1.0" />
<line x1="84.18" y1="171.20" x2="103.98" y2="179.70" stroke="#f1d68c" stroke-width="0.55" stroke-opacity="0.95"/>
<line x1="84.18" y1="172.90" x2="103.98" y2="181.00" stroke="#f1d68c" stroke-width="0.55" stroke-opacity="0.95"/>
<line x1="84.18" y1="177.20" x2="103.98" y2="182.00" stroke="#f1d68c" stroke-width="0.55" stroke-opacity="0.95"/>
<line x1="84.18" y1="182.70" x2="103.98" y2="186.00" stroke="#f1d68c" stroke-width="0.55" stroke-opacity="0.95"/>
<line x1="84.18" y1="192.30" x2="103.98" y2="194.00" stroke="#f1d68c" stroke-width="0.55" stroke-opacity="0.95"/>
<circle cx="84.18" cy="171.20" r="1.35" fill="#c29c2c" stroke="#1a1c20" stroke-width="0.6"/>
<circle cx="84.18" cy="172.90" r="1.35" fill="#c29c2c" stroke="#1a1c20" stroke-width="0.6"/>
<circle cx="84.18" cy="177.20" r="1.35" fill="#c29c2c" stroke="#1a1c20" stroke-width="0.6"/>
<circle cx="84.18" cy="182.70" r="1.35" fill="#c29c2c" stroke="#1a1c20" stroke-width="0.6"/>
<circle cx="84.18" cy="192.30" r="1.35" fill="#c29c2c" stroke="#1a1c20" stroke-width="0.6"/>
<circle cx="103.98" cy="179.70" r="1.35" fill="#c29c2c" stroke="#1a1c20" stroke-width="0.6"/>
<circle cx="103.98" cy="181.00" r="1.35" fill="#c29c2c" stroke="#1a1c20" stroke-width="0.6"/>
<circle cx="103.98" cy="186.00" r="1.35" fill="#c29c2c" stroke="#1a1c20" stroke-width="0.6"/>
<circle cx="103.98" cy="194.00" r="1.35" fill="#c29c2c" stroke="#1a1c20" stroke-width="0.6"/>
<circle cx="103.98" cy="182.00" r="1.35" fill="#c29c2c" stroke="#1a1c20" stroke-width="0.6"/>
<g opacity="0.55">
<rect x="76.50" y="172.50" width="15.00" height="7.00" fill="none" stroke="#6a6a6a" stroke-width="0.7"/>
<line x1="76.48" y1="174.50" x2="91.88" y2="174.50" stroke="#6a6a6a" stroke-width="1.0" />
<rect x="96.50" y="180.50" width="15.00" height="7.00" fill="none" stroke="#6a6a6a" stroke-width="0.7"/>
<line x1="96.28" y1="182.50" x2="111.68" y2="182.50" stroke="#6a6a6a" stroke-width="1.0" />
</g>
<line x1="119.46" y1="171.50" x2="162.26" y2="171.50" stroke="#a3a3a3" stroke-width="1.0" stroke-dasharray="2.9,2.35"/>
<line x1="131.50" y1="168.50" x2="131.50" y2="169.60" stroke="#6a6a6a" stroke-width="0.7" />
<line x1="131.50" y1="171.00" x2="131.50" y2="171.50" stroke="#6a6a6a" stroke-width="0.7" />
<rect x="123.50" y="169.50" width="15.00" height="2.00" fill="#fff" stroke="#6a6a6a" stroke-width="0.7"/>
<line x1="123.46" y1="170.50" x2="138.86" y2="170.50" stroke="#6a6a6a" stroke-width="1.0" />
<line x1="150.50" y1="178.50" x2="150.50" y2="179.60" stroke="#6a6a6a" stroke-width="0.7" />
<line x1="150.50" y1="181.00" x2="150.50" y2="183.50" stroke="#6a6a6a" stroke-width="0.7" />
<rect x="143.50" y="179.50" width="15.00" height="2.00" fill="#fff" stroke="#6a6a6a" stroke-width="0.7"/>
<line x1="143.26" y1="180.50" x2="158.66" y2="180.50" stroke="#6a6a6a" stroke-width="1.0" />
<line x1="131.16" y1="168.50" x2="150.96" y2="178.50" stroke="#f0b277" stroke-width="0.55" stroke-opacity="0.95"/>
<line x1="131.16" y1="170.00" x2="150.96" y2="180.00" stroke="#f0b277" stroke-width="0.55" stroke-opacity="0.95"/>
<line x1="131.16" y1="171.50" x2="150.96" y2="181.50" stroke="#f0b277" stroke-width="0.55" stroke-opacity="0.95"/>
<circle cx="131.16" cy="168.50" r="1.35" fill="#bc702a" stroke="#1a1c20" stroke-width="0.6"/>
<circle cx="131.16" cy="170.00" r="1.35" fill="#bc702a" stroke="#1a1c20" stroke-width="0.6"/>
<circle cx="131.16" cy="171.50" r="1.35" fill="#bc702a" stroke="#1a1c20" stroke-width="0.6"/>
<circle cx="150.96" cy="178.50" r="1.35" fill="#bc702a" stroke="#1a1c20" stroke-width="0.6"/>
<circle cx="150.96" cy="180.00" r="1.35" fill="#bc702a" stroke="#1a1c20" stroke-width="0.6"/>
<circle cx="150.96" cy="181.50" r="1.35" fill="#bc702a" stroke="#1a1c20" stroke-width="0.6"/>
<g opacity="0.55">
<rect x="123.50" y="169.50" width="15.00" height="2.00" fill="none" stroke="#6a6a6a" stroke-width="0.7"/>
<line x1="123.46" y1="170.50" x2="138.86" y2="170.50" stroke="#6a6a6a" stroke-width="1.0" />
<rect x="143.50" y="179.50" width="15.00" height="2.00" fill="none" stroke="#6a6a6a" stroke-width="0.7"/>
<line x1="143.26" y1="180.50" x2="158.66" y2="180.50" stroke="#6a6a6a" stroke-width="1.0" />
</g>
<line x1="166.44" y1="171.50" x2="209.24" y2="171.50" stroke="#a3a3a3" stroke-width="1.0" stroke-dasharray="2.9,2.35"/>
<line x1="178.50" y1="171.20" x2="178.50" y2="174.60" stroke="#6a6a6a" stroke-width="0.7" />
<line x1="178.50" y1="184.90" x2="178.50" y2="191.20" stroke="#6a6a6a" stroke-width="0.7" />
<rect x="170.50" y="174.50" width="15.00" height="10.00" fill="#fff" stroke="#6a6a6a" stroke-width="0.7"/>
<line x1="170.44" y1="181.50" x2="185.84" y2="181.50" stroke="#6a6a6a" stroke-width="1.0" />
<line x1="197.50" y1="180.30" x2="197.50" y2="181.50" stroke="#6a6a6a" stroke-width="0.7" />
<line x1="197.50" y1="190.00" x2="197.50" y2="193.50" stroke="#6a6a6a" stroke-width="0.7" />
<rect x="190.50" y="181.50" width="15.00" height="9.00" fill="#fff" stroke="#6a6a6a" stroke-width="0.7"/>
<line x1="190.24" y1="187.50" x2="205.64" y2="187.50" stroke="#6a6a6a" stroke-width="1.0" />
<line x1="178.14" y1="171.20" x2="197.94" y2="180.30" stroke="#de8b82" stroke-width="0.55" stroke-opacity="0.95"/>
<line x1="178.14" y1="176.80" x2="197.94" y2="182.00" stroke="#de8b82" stroke-width="0.55" stroke-opacity="0.95"/>
<line x1="178.14" y1="181.50" x2="197.94" y2="187.10" stroke="#de8b82" stroke-width="0.55" stroke-opacity="0.95"/>
<line x1="178.14" y1="189.20" x2="197.94" y2="189.50" stroke="#de8b82" stroke-width="0.55" stroke-opacity="0.95"/>
<line x1="178.14" y1="191.20" x2="197.94" y2="193.50" stroke="#de8b82" stroke-width="0.55" stroke-opacity="0.95"/>
<circle cx="178.14" cy="171.20" r="1.35" fill="#922d25" stroke="#1a1c20" stroke-width="0.6"/>
<circle cx="178.14" cy="176.80" r="1.35" fill="#922d25" stroke="#1a1c20" stroke-width="0.6"/>
<circle cx="178.14" cy="181.50" r="1.35" fill="#922d25" stroke="#1a1c20" stroke-width="0.6"/>
<circle cx="178.14" cy="189.20" r="1.35" fill="#922d25" stroke="#1a1c20" stroke-width="0.6"/>
<circle cx="178.14" cy="191.20" r="1.35" fill="#922d25" stroke="#1a1c20" stroke-width="0.6"/>
<circle cx="197.94" cy="180.30" r="1.35" fill="#922d25" stroke="#1a1c20" stroke-width="0.6"/>
<circle cx="197.94" cy="182.00" r="1.35" fill="#922d25" stroke="#1a1c20" stroke-width="0.6"/>
<circle cx="197.94" cy="187.10" r="1.35" fill="#922d25" stroke="#1a1c20" stroke-width="0.6"/>
<circle cx="197.94" cy="189.50" r="1.35" fill="#922d25" stroke="#1a1c20" stroke-width="0.6"/>
<circle cx="197.94" cy="193.50" r="1.35" fill="#922d25" stroke="#1a1c20" stroke-width="0.6"/>
<g opacity="0.55">
<rect x="170.50" y="174.50" width="15.00" height="10.00" fill="none" stroke="#6a6a6a" stroke-width="0.7"/>
<line x1="170.44" y1="181.50" x2="185.84" y2="181.50" stroke="#6a6a6a" stroke-width="1.0" />
<rect x="190.50" y="181.50" width="15.00" height="9.00" fill="none" stroke="#6a6a6a" stroke-width="0.7"/>
<line x1="190.24" y1="187.50" x2="205.64" y2="187.50" stroke="#6a6a6a" stroke-width="1.0" />
</g>
<line x1="213.42" y1="171.50" x2="256.22" y2="171.50" stroke="#a3a3a3" stroke-width="1.0" stroke-dasharray="2.9,2.35"/>
<line x1="225.50" y1="166.50" x2="225.50" y2="168.20" stroke="#6a6a6a" stroke-width="0.7" />
<line x1="225.50" y1="177.20" x2="225.50" y2="182.70" stroke="#6a6a6a" stroke-width="0.7" />
<rect x="217.50" y="168.50" width="15.00" height="9.00" fill="#fff" stroke="#6a6a6a" stroke-width="0.7"/>
<line x1="217.42" y1="172.50" x2="232.82" y2="172.50" stroke="#6a6a6a" stroke-width="1.0" />
<line x1="244.50" y1="178.00" x2="244.50" y2="179.70" stroke="#6a6a6a" stroke-width="0.7" />
<line x1="244.50" y1="184.00" x2="244.50" y2="187.50" stroke="#6a6a6a" stroke-width="0.7" />
<rect x="237.50" y="179.50" width="15.00" height="5.00" fill="#fff" stroke="#6a6a6a" stroke-width="0.7"/>
<line x1="237.22" y1="181.50" x2="252.62" y2="181.50" stroke="#6a6a6a" stroke-width="1.0" />
<line x1="225.12" y1="166.50" x2="244.92" y2="178.00" stroke="#cf8c8c" stroke-width="0.55" stroke-opacity="0.95"/>
<line x1="225.12" y1="168.50" x2="244.92" y2="180.00" stroke="#cf8c8c" stroke-width="0.55" stroke-opacity="0.95"/>
<line x1="225.12" y1="170.50" x2="244.92" y2="181.00" stroke="#cf8c8c" stroke-width="0.55" stroke-opacity="0.95"/>
<line x1="225.12" y1="172.50" x2="244.92" y2="182.00" stroke="#cf8c8c" stroke-width="0.55" stroke-opacity="0.95"/>
<line x1="225.12" y1="174.50" x2="244.92" y2="183.00" stroke="#cf8c8c" stroke-width="0.55" stroke-opacity="0.95"/>
<line x1="225.12" y1="176.50" x2="244.92" y2="184.00" stroke="#cf8c8c" stroke-width="0.55" stroke-opacity="0.95"/>
<line x1="225.12" y1="178.50" x2="244.92" y2="186.00" stroke="#cf8c8c" stroke-width="0.55" stroke-opacity="0.95"/>
<line x1="225.12" y1="182.70" x2="244.92" y2="187.50" stroke="#cf8c8c" stroke-width="0.55" stroke-opacity="0.95"/>
<circle cx="225.12" cy="166.50" r="1.35" fill="#571313" stroke="#1a1c20" stroke-width="0.6"/>
<circle cx="225.12" cy="168.50" r="1.35" fill="#571313" stroke="#1a1c20" stroke-width="0.6"/>
<circle cx="225.12" cy="170.50" r="1.35" fill="#571313" stroke="#1a1c20" stroke-width="0.6"/>
<circle cx="225.12" cy="172.50" r="1.35" fill="#571313" stroke="#1a1c20" stroke-width="0.6"/>
<circle cx="225.12" cy="174.50" r="1.35" fill="#571313" stroke="#1a1c20" stroke-width="0.6"/>
<circle cx="225.12" cy="176.50" r="1.35" fill="#571313" stroke="#1a1c20" stroke-width="0.6"/>
<circle cx="225.12" cy="178.50" r="1.35" fill="#571313" stroke="#1a1c20" stroke-width="0.6"/>
<circle cx="225.12" cy="182.70" r="1.35" fill="#571313" stroke="#1a1c20" stroke-width="0.6"/>
<circle cx="244.92" cy="178.00" r="1.35" fill="#571313" stroke="#1a1c20" stroke-width="0.6"/>
<circle cx="244.92" cy="180.00" r="1.35" fill="#571313" stroke="#1a1c20" stroke-width="0.6"/>
<circle cx="244.92" cy="182.00" r="1.35" fill="#571313" stroke="#1a1c20" stroke-width="0.6"/>
<circle cx="244.92" cy="184.00" r="1.35" fill="#571313" stroke="#1a1c20" stroke-width="0.6"/>
<circle cx="244.92" cy="186.00" r="1.35" fill="#571313" stroke="#1a1c20" stroke-width="0.6"/>
<circle cx="244.92" cy="187.50" r="1.35" fill="#571313" stroke="#1a1c20" stroke-width="0.6"/>
<circle cx="244.92" cy="181.00" r="1.35" fill="#571313" stroke="#1a1c20" stroke-width="0.6"/>
<circle cx="244.92" cy="183.00" r="1.35" fill="#571313" stroke="#1a1c20" stroke-width="0.6"/>
<g opacity="0.55">
<rect x="217.50" y="168.50" width="15.00" height="9.00" fill="none" stroke="#6a6a6a" stroke-width="0.7"/>
<line x1="217.42" y1="172.50" x2="232.82" y2="172.50" stroke="#6a6a6a" stroke-width="1.0" />
<rect x="237.50" y="179.50" width="15.00" height="5.00" fill="none" stroke="#6a6a6a" stroke-width="0.7"/>
<line x1="237.22" y1="181.50" x2="252.62" y2="181.50" stroke="#6a6a6a" stroke-width="1.0" />
</g>
<line x1="23.00" y1="67.50" x2="25.50" y2="67.50" stroke="#333" stroke-width="0.6" />
<text x="21.80" y="70.10" font-size="6.7" text-anchor="end" font-weight="normal" font-style="normal" fill="#333" stroke="#333" stroke-width="0.22" >0</text>
<line x1="23.00" y1="52.50" x2="25.50" y2="52.50" stroke="#333" stroke-width="0.6" />
<text x="21.80" y="54.60" font-size="6.7" text-anchor="end" font-weight="normal" font-style="normal" fill="#333" stroke="#333" stroke-width="0.22" >200</text>
<line x1="23.00" y1="36.50" x2="25.50" y2="36.50" stroke="#333" stroke-width="0.6" />
<text x="21.80" y="39.10" font-size="6.7" text-anchor="end" font-weight="normal" font-style="normal" fill="#333" stroke="#333" stroke-width="0.22" >400</text>
<line x1="23.00" y1="21.50" x2="25.50" y2="21.50" stroke="#333" stroke-width="0.6" />
<text x="21.80" y="23.60" font-size="6.7" text-anchor="end" font-weight="normal" font-style="normal" fill="#333" stroke="#333" stroke-width="0.22" >600</text>
<line x1="23.00" y1="131.50" x2="25.50" y2="131.50" stroke="#333" stroke-width="0.6" />
<text x="21.80" y="134.05" font-size="6.7" text-anchor="end" font-weight="normal" font-style="normal" fill="#333" stroke="#333" stroke-width="0.22" >0</text>
<line x1="23.00" y1="116.50" x2="25.50" y2="116.50" stroke="#333" stroke-width="0.6" />
<text x="21.80" y="118.55" font-size="6.7" text-anchor="end" font-weight="normal" font-style="normal" fill="#333" stroke="#333" stroke-width="0.22" >200</text>
<line x1="23.00" y1="100.50" x2="25.50" y2="100.50" stroke="#333" stroke-width="0.6" />
<text x="21.80" y="103.05" font-size="6.7" text-anchor="end" font-weight="normal" font-style="normal" fill="#333" stroke="#333" stroke-width="0.22" >400</text>
<line x1="23.00" y1="85.50" x2="25.50" y2="85.50" stroke="#333" stroke-width="0.6" />
<text x="21.80" y="87.55" font-size="6.7" text-anchor="end" font-weight="normal" font-style="normal" fill="#333" stroke="#333" stroke-width="0.22" >600</text>
<line x1="23.00" y1="195.50" x2="25.50" y2="195.50" stroke="#333" stroke-width="0.6" />
<text x="21.80" y="198.00" font-size="6.7" text-anchor="end" font-weight="normal" font-style="normal" fill="#333" stroke="#333" stroke-width="0.22" >0</text>
<line x1="23.00" y1="180.50" x2="25.50" y2="180.50" stroke="#333" stroke-width="0.6" />
<text x="21.80" y="182.50" font-size="6.7" text-anchor="end" font-weight="normal" font-style="normal" fill="#333" stroke="#333" stroke-width="0.22" >200</text>
<line x1="23.00" y1="164.50" x2="25.50" y2="164.50" stroke="#333" stroke-width="0.6" />
<text x="21.80" y="167.00" font-size="6.7" text-anchor="end" font-weight="normal" font-style="normal" fill="#333" stroke="#333" stroke-width="0.22" >400</text>
<line x1="23.00" y1="149.50" x2="25.50" y2="149.50" stroke="#333" stroke-width="0.6" />
<text x="21.80" y="151.50" font-size="6.7" text-anchor="end" font-weight="normal" font-style="normal" fill="#333" stroke="#333" stroke-width="0.22" >600</text>
<line x1="37.50" y1="197.00" x2="37.50" y2="199.00" stroke="#333" stroke-width="0.6" />
<text x="37.50" y="205.70" font-size="6.5" text-anchor="middle" font-weight="normal" font-style="normal" fill="#333" stroke="#333" stroke-width="0.22" >Short</text>
<line x1="57.50" y1="197.00" x2="57.50" y2="199.00" stroke="#333" stroke-width="0.6" />
<text x="59.00" y="205.70" font-size="6.5" text-anchor="middle" font-weight="normal" font-style="normal" fill="#333" stroke="#333" stroke-width="0.22" >Long</text>
<line x1="84.50" y1="197.00" x2="84.50" y2="199.00" stroke="#333" stroke-width="0.6" />
<text x="84.48" y="205.70" font-size="6.5" text-anchor="middle" font-weight="normal" font-style="normal" fill="#333" stroke="#333" stroke-width="0.22" >Short</text>
<line x1="103.50" y1="197.00" x2="103.50" y2="199.00" stroke="#333" stroke-width="0.6" />
<text x="105.98" y="205.70" font-size="6.5" text-anchor="middle" font-weight="normal" font-style="normal" fill="#333" stroke="#333" stroke-width="0.22" >Long</text>
<line x1="131.50" y1="197.00" x2="131.50" y2="199.00" stroke="#333" stroke-width="0.6" />
<text x="131.46" y="205.70" font-size="6.5" text-anchor="middle" font-weight="normal" font-style="normal" fill="#333" stroke="#333" stroke-width="0.22" >Short</text>
<line x1="150.50" y1="197.00" x2="150.50" y2="199.00" stroke="#333" stroke-width="0.6" />
<text x="152.96" y="205.70" font-size="6.5" text-anchor="middle" font-weight="normal" font-style="normal" fill="#333" stroke="#333" stroke-width="0.22" >Long</text>
<line x1="178.50" y1="197.00" x2="178.50" y2="199.00" stroke="#333" stroke-width="0.6" />
<text x="178.44" y="205.70" font-size="6.5" text-anchor="middle" font-weight="normal" font-style="normal" fill="#333" stroke="#333" stroke-width="0.22" >Short</text>
<line x1="197.50" y1="197.00" x2="197.50" y2="199.00" stroke="#333" stroke-width="0.6" />
<text x="199.94" y="205.70" font-size="6.5" text-anchor="middle" font-weight="normal" font-style="normal" fill="#333" stroke="#333" stroke-width="0.22" >Long</text>
<line x1="225.50" y1="197.00" x2="225.50" y2="199.00" stroke="#333" stroke-width="0.6" />
<text x="225.42" y="205.70" font-size="6.5" text-anchor="middle" font-weight="normal" font-style="normal" fill="#333" stroke="#333" stroke-width="0.22" >Short</text>
<line x1="244.50" y1="197.00" x2="244.50" y2="199.00" stroke="#333" stroke-width="0.6" />
<text x="246.92" y="205.70" font-size="6.5" text-anchor="middle" font-weight="normal" font-style="normal" fill="#333" stroke="#333" stroke-width="0.22" >Long</text>
<text x="138.30" y="217.20" font-size="7.5" text-anchor="middle" font-weight="normal" font-style="normal" fill="#1a1a1a" stroke="#1a1a1a" stroke-width="0.22" >Amplicon type</text>
<text x="7.00" y="104.40" font-size="7.4" text-anchor="middle" font-weight="normal" font-style="normal" fill="#1a1a1a" stroke="#1a1a1a" stroke-width="0.22" transform="rotate(-90 7.0 104.4)">Copies per ng</text>
<text x="2.60" y="6.60" font-size="7.9" text-anchor="start" font-weight="bold" font-style="normal" fill="#000"  >A</text>
<rect x="295.50" y="9.50" width="92.00" height="59.00" fill="none" stroke="#8c8c8c" stroke-width="0.8"/>
<rect x="387.50" y="9.50" width="14.00" height="59.00" fill="none" stroke="#8c8c8c" stroke-width="0.8"/>
<text x="393.60" y="39.75" font-size="6.2" text-anchor="middle" font-weight="bold" font-style="normal" fill="#1a1a1a"  transform="rotate(90 393.6 39.75)" dominant-baseline="central">OCR1</text>
<line x1="293.00" y1="64.50" x2="295.20" y2="64.50" stroke="#333" stroke-width="0.6" />
<text x="292.20" y="66.60" font-size="6.7" text-anchor="end" font-weight="normal" font-style="normal" fill="#333" stroke="#333" stroke-width="0.22" >1</text>
<line x1="293.00" y1="48.50" x2="295.20" y2="48.50" stroke="#333" stroke-width="0.6" />
<text x="292.20" y="50.76" font-size="6.7" text-anchor="end" font-weight="normal" font-style="normal" fill="#333" stroke="#333" stroke-width="0.22" >3</text>
<line x1="293.00" y1="31.50" x2="295.20" y2="31.50" stroke="#333" stroke-width="0.6" />
<text x="292.20" y="33.40" font-size="6.7" text-anchor="end" font-weight="normal" font-style="normal" fill="#333" stroke="#333" stroke-width="0.22" >10</text>
<line x1="293.00" y1="15.50" x2="295.20" y2="15.50" stroke="#333" stroke-width="0.6" />
<text x="292.20" y="17.56" font-size="6.7" text-anchor="end" font-weight="normal" font-style="normal" fill="#333" stroke="#333" stroke-width="0.22" >30</text>
<line x1="295.20" y1="67.50" x2="297.30" y2="67.50" stroke="#555" stroke-width="0.5" />
<line x1="295.20" y1="65.50" x2="297.30" y2="65.50" stroke="#555" stroke-width="0.5" />
<line x1="295.20" y1="64.50" x2="299.50" y2="64.50" stroke="#555" stroke-width="0.5" />
<line x1="295.20" y1="54.50" x2="297.30" y2="54.50" stroke="#555" stroke-width="0.5" />
<line x1="295.20" y1="48.50" x2="297.30" y2="48.50" stroke="#555" stroke-width="0.5" />
<line x1="295.20" y1="44.50" x2="297.30" y2="44.50" stroke="#555" stroke-width="0.5" />
<line x1="295.20" y1="40.50" x2="298.20" y2="40.50" stroke="#555" stroke-width="0.5" />
<line x1="295.20" y1="38.50" x2="297.30" y2="38.50" stroke="#555" stroke-width="0.5" />
<line x1="295.20" y1="36.50" x2="297.30" y2="36.50" stroke="#555" stroke-width="0.5" />
<line x1="295.20" y1="34.50" x2="297.30" y2="34.50" stroke="#555" stroke-width="0.5" />
<line x1="295.20" y1="32.50" x2="297.30" y2="32.50" stroke="#555" stroke-width="0.5" />
<line x1="295.20" y1="31.50" x2="299.50" y2="31.50" stroke="#555" stroke-width="0.5" />
<line x1="295.20" y1="21.50" x2="297.30" y2="21.50" stroke="#555" stroke-width="0.5" />
<line x1="295.20" y1="15.50" x2="297.30" y2="15.50" stroke="#555" stroke-width="0.5" />
<line x1="295.20" y1="11.50" x2="297.30" y2="11.50" stroke="#555" stroke-width="0.5" />
<rect x="295.50" y="73.50" width="92.00" height="59.00" fill="none" stroke="#8c8c8c" stroke-width="0.8"/>
<rect x="387.50" y="73.50" width="14.00" height="59.00" fill="none" stroke="#8c8c8c" stroke-width="0.8"/>
<text x="393.60" y="103.75" font-size="6.2" text-anchor="middle" font-weight="bold" font-style="normal" fill="#1a1a1a"  transform="rotate(90 393.6 103.75)" dominant-baseline="central">OCR2</text>
<line x1="293.00" y1="128.50" x2="295.20" y2="128.50" stroke="#333" stroke-width="0.6" />
<text x="292.20" y="130.60" font-size="6.7" text-anchor="end" font-weight="normal" font-style="normal" fill="#333" stroke="#333" stroke-width="0.22" >1</text>
<line x1="293.00" y1="112.50" x2="295.20" y2="112.50" stroke="#333" stroke-width="0.6" />
<text x="292.20" y="114.76" font-size="6.7" text-anchor="end" font-weight="normal" font-style="normal" fill="#333" stroke="#333" stroke-width="0.22" >3</text>
<line x1="293.00" y1="94.50" x2="295.20" y2="94.50" stroke="#333" stroke-width="0.6" />
<text x="292.20" y="97.40" font-size="6.7" text-anchor="end" font-weight="normal" font-style="normal" fill="#333" stroke="#333" stroke-width="0.22" >10</text>
<line x1="293.00" y1="79.50" x2="295.20" y2="79.50" stroke="#333" stroke-width="0.6" />
<text x="292.20" y="81.56" font-size="6.7" text-anchor="end" font-weight="normal" font-style="normal" fill="#333" stroke="#333" stroke-width="0.22" >30</text>
<line x1="295.20" y1="131.50" x2="297.30" y2="131.50" stroke="#555" stroke-width="0.5" />
<line x1="295.20" y1="129.50" x2="297.30" y2="129.50" stroke="#555" stroke-width="0.5" />
<line x1="295.20" y1="128.50" x2="299.50" y2="128.50" stroke="#555" stroke-width="0.5" />
<line x1="295.20" y1="118.50" x2="297.30" y2="118.50" stroke="#555" stroke-width="0.5" />
<line x1="295.20" y1="112.50" x2="297.30" y2="112.50" stroke="#555" stroke-width="0.5" />
<line x1="295.20" y1="108.50" x2="297.30" y2="108.50" stroke="#555" stroke-width="0.5" />
<line x1="295.20" y1="104.50" x2="298.20" y2="104.50" stroke="#555" stroke-width="0.5" />
<line x1="295.20" y1="102.50" x2="297.30" y2="102.50" stroke="#555" stroke-width="0.5" />
<line x1="295.20" y1="100.50" x2="297.30" y2="100.50" stroke="#555" stroke-width="0.5" />
<line x1="295.20" y1="98.50" x2="297.30" y2="98.50" stroke="#555" stroke-width="0.5" />
<line x1="295.20" y1="96.50" x2="297.30" y2="96.50" stroke="#555" stroke-width="0.5" />
<line x1="295.20" y1="94.50" x2="299.50" y2="94.50" stroke="#555" stroke-width="0.5" />
<line x1="295.20" y1="85.50" x2="297.30" y2="85.50" stroke="#555" stroke-width="0.5" />
<line x1="295.20" y1="79.50" x2="297.30" y2="79.50" stroke="#555" stroke-width="0.5" />
<line x1="295.20" y1="75.50" x2="297.30" y2="75.50" stroke="#555" stroke-width="0.5" />
<rect x="295.50" y="137.50" width="92.00" height="59.00" fill="none" stroke="#8c8c8c" stroke-width="0.8"/>
<rect x="387.50" y="137.50" width="14.00" height="59.00" fill="none" stroke="#8c8c8c" stroke-width="0.8"/>
<text x="393.60" y="167.65" font-size="6.2" text-anchor="middle" font-weight="bold" font-style="normal" fill="#1a1a1a"  transform="rotate(90 393.6 167.65)" dominant-baseline="central">CCR</text>
<line x1="293.00" y1="192.50" x2="295.20" y2="192.50" stroke="#333" stroke-width="0.6" />
<text x="292.20" y="194.50" font-size="6.7" text-anchor="end" font-weight="normal" font-style="normal" fill="#333" stroke="#333" stroke-width="0.22" >1</text>
<line x1="293.00" y1="176.50" x2="295.20" y2="176.50" stroke="#333" stroke-width="0.6" />
<text x="292.20" y="178.66" font-size="6.7" text-anchor="end" font-weight="normal" font-style="normal" fill="#333" stroke="#333" stroke-width="0.22" >3</text>
<line x1="293.00" y1="158.50" x2="295.20" y2="158.50" stroke="#333" stroke-width="0.6" />
<text x="292.20" y="161.30" font-size="6.7" text-anchor="end" font-weight="normal" font-style="normal" fill="#333" stroke="#333" stroke-width="0.22" >10</text>
<line x1="293.00" y1="143.50" x2="295.20" y2="143.50" stroke="#333" stroke-width="0.6" />
<text x="292.20" y="145.46" font-size="6.7" text-anchor="end" font-weight="normal" font-style="normal" fill="#333" stroke="#333" stroke-width="0.22" >30</text>
<line x1="295.20" y1="195.50" x2="297.30" y2="195.50" stroke="#555" stroke-width="0.5" />
<line x1="295.20" y1="193.50" x2="297.30" y2="193.50" stroke="#555" stroke-width="0.5" />
<line x1="295.20" y1="192.50" x2="299.50" y2="192.50" stroke="#555" stroke-width="0.5" />
<line x1="295.20" y1="182.50" x2="297.30" y2="182.50" stroke="#555" stroke-width="0.5" />
<line x1="295.20" y1="176.50" x2="297.30" y2="176.50" stroke="#555" stroke-width="0.5" />
<line x1="295.20" y1="172.50" x2="297.30" y2="172.50" stroke="#555" stroke-width="0.5" />
<line x1="295.20" y1="168.50" x2="298.20" y2="168.50" stroke="#555" stroke-width="0.5" />
<line x1="295.20" y1="166.50" x2="297.30" y2="166.50" stroke="#555" stroke-width="0.5" />
<line x1="295.20" y1="164.50" x2="297.30" y2="164.50" stroke="#555" stroke-width="0.5" />
<line x1="295.20" y1="162.50" x2="297.30" y2="162.50" stroke="#555" stroke-width="0.5" />
<line x1="295.20" y1="160.50" x2="297.30" y2="160.50" stroke="#555" stroke-width="0.5" />
<line x1="295.20" y1="158.50" x2="299.50" y2="158.50" stroke="#555" stroke-width="0.5" />
<line x1="295.20" y1="148.50" x2="297.30" y2="148.50" stroke="#555" stroke-width="0.5" />
<line x1="295.20" y1="143.50" x2="297.30" y2="143.50" stroke="#555" stroke-width="0.5" />
<line x1="295.20" y1="138.50" x2="297.30" y2="138.50" stroke="#555" stroke-width="0.5" />
<polyline points="305.7,14.30 305.7,11.30 350.1,11.30 350.1,14.30" fill="none" stroke="#666" stroke-width="0.6"/>
<text x="327.30" y="17.30" font-size="5.1" text-anchor="middle" font-weight="normal" font-style="italic" fill="#555"  >p = 0.018</text>
<text x="327.30" y="24.00" font-size="5.1" text-anchor="middle" font-weight="normal" font-style="italic" fill="#555"  >Wilcoxon</text>
<polyline points="305.7,78.30 305.7,75.30 350.1,75.30 350.1,78.30" fill="none" stroke="#666" stroke-width="0.6"/>
<text x="327.30" y="81.30" font-size="5.1" text-anchor="middle" font-weight="normal" font-style="italic" fill="#555"  >p = 0.007</text>
<text x="327.30" y="88.00" font-size="5.1" text-anchor="middle" font-weight="normal" font-style="italic" fill="#555"  >Wilcoxon</text>
<polyline points="305.7,142.20 305.7,139.20 350.1,139.20 350.1,142.20" fill="none" stroke="#666" stroke-width="0.6"/>
<text x="327.30" y="145.20" font-size="5.1" text-anchor="middle" font-weight="normal" font-style="italic" fill="#555"  >p = 0.017</text>
<text x="327.30" y="151.90" font-size="5.1" text-anchor="middle" font-weight="normal" font-style="italic" fill="#555"  >Wilcoxon</text>
<line x1="350.50" y1="45.50" x2="350.50" y2="49.20" stroke="#6a6a6a" stroke-width="0.8" />
<line x1="350.50" y1="52.20" x2="350.50" y2="54.50" stroke="#6a6a6a" stroke-width="0.8" />
<rect x="318.50" y="49.50" width="63.00" height="3.00" fill="#a8a8a8" stroke="#6a6a6a" stroke-width="0.8"/>
<line x1="318.40" y1="50.50" x2="381.60" y2="50.50" stroke="#6a6a6a" stroke-width="1.1" />
<rect x="298.50" y="50.50" width="14.00" height="4.00" fill="none" stroke="#6a6a6a" stroke-width="0.8"/>
<line x1="298.90" y1="52.50" x2="312.30" y2="52.50" stroke="#6a6a6a" stroke-width="1.0" />
<circle cx="305.50" cy="42.20" r="1.25" fill="#3e5678" stroke="#1a1c20" stroke-width="0.6"/>
<circle cx="303.80" cy="66.30" r="1.25" fill="#3e5678" stroke="#1a1c20" stroke-width="0.6"/>
<circle cx="305.25" cy="53.14" r="1.25" fill="#3e5678" stroke="#1a1c20" stroke-width="0.6"/>
<circle cx="308.18" cy="51.97" r="1.25" fill="#3e5678" stroke="#1a1c20" stroke-width="0.6"/>
<circle cx="305.47" cy="53.48" r="1.25" fill="#3e5678" stroke="#1a1c20" stroke-width="0.6"/>
<circle cx="303.90" cy="52.55" r="1.25" fill="#3e5678" stroke="#1a1c20" stroke-width="0.6"/>
<circle cx="305.52" cy="56.03" r="1.25" fill="#3e5678" stroke="#1a1c20" stroke-width="0.6"/>
<circle cx="304.04" cy="49.96" r="1.25" fill="#3e5678" stroke="#1a1c20" stroke-width="0.6"/>
<circle cx="308.20" cy="46.72" r="1.25" fill="#3e5678" stroke="#1a1c20" stroke-width="0.6"/>
<circle cx="306.20" cy="53.83" r="1.25" fill="#3e5678" stroke="#1a1c20" stroke-width="0.6"/>
<circle cx="307.22" cy="46.94" r="1.25" fill="#3e5678" stroke="#1a1c20" stroke-width="0.6"/>
<circle cx="304.77" cy="49.20" r="1.25" fill="#3e5678" stroke="#1a1c20" stroke-width="0.6"/>
<circle cx="303.18" cy="51.95" r="1.25" fill="#3e5678" stroke="#1a1c20" stroke-width="0.6"/>
<circle cx="304.31" cy="56.65" r="1.25" fill="#3e5678" stroke="#1a1c20" stroke-width="0.6"/>
<circle cx="305.37" cy="54.14" r="1.25" fill="#3e5678" stroke="#1a1c20" stroke-width="0.6"/>
<circle cx="305.20" cy="54.41" r="1.25" fill="#3e5678" stroke="#1a1c20" stroke-width="0.6"/>
<circle cx="306.15" cy="49.65" r="1.25" fill="#3e5678" stroke="#1a1c20" stroke-width="0.6"/>
<circle cx="306.96" cy="54.98" r="1.25" fill="#3e5678" stroke="#1a1c20" stroke-width="0.6"/>
<circle cx="305.50" cy="49.05" r="1.25" fill="#3e5678" stroke="#1a1c20" stroke-width="0.6"/>
<circle cx="305.85" cy="47.07" r="1.25" fill="#3e5678" stroke="#1a1c20" stroke-width="0.6"/>
<circle cx="307.50" cy="51.16" r="1.25" fill="#3e5678" stroke="#1a1c20" stroke-width="0.6"/>
<circle cx="307.99" cy="50.99" r="1.25" fill="#3e5678" stroke="#1a1c20" stroke-width="0.6"/>
<circle cx="323.00" cy="47.20" r="1.25" fill="#c29c2c" stroke="#1a1c20" stroke-width="0.6"/>
<circle cx="321.50" cy="48.50" r="1.25" fill="#c29c2c" stroke="#1a1c20" stroke-width="0.6"/>
<circle cx="324.50" cy="49.20" r="1.25" fill="#c29c2c" stroke="#1a1c20" stroke-width="0.6"/>
<circle cx="322.30" cy="50.50" r="1.25" fill="#c29c2c" stroke="#1a1c20" stroke-width="0.6"/>
<circle cx="325.20" cy="51.00" r="1.25" fill="#c29c2c" stroke="#1a1c20" stroke-width="0.6"/>
<circle cx="321.00" cy="52.00" r="1.25" fill="#c29c2c" stroke="#1a1c20" stroke-width="0.6"/>
<circle cx="323.70" cy="52.80" r="1.25" fill="#c29c2c" stroke="#1a1c20" stroke-width="0.6"/>
<circle cx="326.00" cy="53.20" r="1.25" fill="#c29c2c" stroke="#1a1c20" stroke-width="0.6"/>
<circle cx="322.60" cy="54.20" r="1.25" fill="#c29c2c" stroke="#1a1c20" stroke-width="0.6"/>
<circle cx="324.80" cy="55.00" r="1.25" fill="#c29c2c" stroke="#1a1c20" stroke-width="0.6"/>
<circle cx="321.80" cy="56.00" r="1.25" fill="#c29c2c" stroke="#1a1c20" stroke-width="0.6"/>
<circle cx="323.50" cy="57.90" r="1.25" fill="#c29c2c" stroke="#1a1c20" stroke-width="0.6"/>
<circle cx="325.50" cy="50.00" r="1.25" fill="#c29c2c" stroke="#1a1c20" stroke-width="0.6"/>
<circle cx="320.80" cy="50.00" r="1.25" fill="#c29c2c" stroke="#1a1c20" stroke-width="0.6"/>
<circle cx="343.30" cy="17.20" r="1.25" fill="#bc702a" stroke="#1a1c20" stroke-width="0.6"/>
<circle cx="343.30" cy="23.50" r="1.25" fill="#bc702a" stroke="#1a1c20" stroke-width="0.6"/>
<circle cx="340.60" cy="41.30" r="1.25" fill="#bc702a" stroke="#1a1c20" stroke-width="0.6"/>
<circle cx="340.50" cy="49.60" r="1.25" fill="#bc702a" stroke="#1a1c20" stroke-width="0.6"/>
<circle cx="342.50" cy="50.30" r="1.25" fill="#bc702a" stroke="#1a1c20" stroke-width="0.6"/>
<circle cx="344.30" cy="49.60" r="1.25" fill="#bc702a" stroke="#1a1c20" stroke-width="0.6"/>
<circle cx="341.50" cy="52.00" r="1.25" fill="#bc702a" stroke="#1a1c20" stroke-width="0.6"/>
<circle cx="358.70" cy="30.60" r="1.25" fill="#922d25" stroke="#1a1c20" stroke-width="0.6"/>
<circle cx="360.40" cy="36.50" r="1.25" fill="#922d25" stroke="#1a1c20" stroke-width="0.6"/>
<circle cx="359.40" cy="40.00" r="1.25" fill="#922d25" stroke="#1a1c20" stroke-width="0.6"/>
<circle cx="357.70" cy="43.60" r="1.25" fill="#922d25" stroke="#1a1c20" stroke-width="0.6"/>
<circle cx="358.60" cy="46.00" r="1.25" fill="#922d25" stroke="#1a1c20" stroke-width="0.6"/>
<circle cx="357.00" cy="48.50" r="1.25" fill="#922d25" stroke="#1a1c20" stroke-width="0.6"/>
<circle cx="360.00" cy="48.50" r="1.25" fill="#922d25" stroke="#1a1c20" stroke-width="0.6"/>
<circle cx="361.50" cy="49.50" r="1.25" fill="#922d25" stroke="#1a1c20" stroke-width="0.6"/>
<circle cx="358.00" cy="50.50" r="1.25" fill="#922d25" stroke="#1a1c20" stroke-width="0.6"/>
<circle cx="359.70" cy="51.50" r="1.25" fill="#922d25" stroke="#1a1c20" stroke-width="0.6"/>
<circle cx="361.00" cy="52.50" r="1.25" fill="#922d25" stroke="#1a1c20" stroke-width="0.6"/>
<circle cx="357.50" cy="52.30" r="1.25" fill="#922d25" stroke="#1a1c20" stroke-width="0.6"/>
<circle cx="374.70" cy="44.80" r="1.25" fill="#571313" stroke="#1a1c20" stroke-width="0.6"/>
<circle cx="376.30" cy="47.20" r="1.25" fill="#571313" stroke="#1a1c20" stroke-width="0.6"/>
<circle cx="378.40" cy="48.00" r="1.25" fill="#571313" stroke="#1a1c20" stroke-width="0.6"/>
<circle cx="375.30" cy="49.30" r="1.25" fill="#571313" stroke="#1a1c20" stroke-width="0.6"/>
<circle cx="377.30" cy="50.00" r="1.25" fill="#571313" stroke="#1a1c20" stroke-width="0.6"/>
<circle cx="379.50" cy="50.50" r="1.25" fill="#571313" stroke="#1a1c20" stroke-width="0.6"/>
<circle cx="376.00" cy="51.50" r="1.25" fill="#571313" stroke="#1a1c20" stroke-width="0.6"/>
<circle cx="378.50" cy="52.60" r="1.25" fill="#571313" stroke="#1a1c20" stroke-width="0.6"/>
<circle cx="374.80" cy="51.80" r="1.25" fill="#571313" stroke="#1a1c20" stroke-width="0.6"/>
<circle cx="380.30" cy="49.30" r="1.25" fill="#571313" stroke="#1a1c20" stroke-width="0.6"/>
<g opacity="0.5">
<rect x="318.50" y="49.50" width="63.00" height="3.00" fill="none" stroke="#6a6a6a" stroke-width="0.8"/>
<line x1="318.40" y1="50.50" x2="381.60" y2="50.50" stroke="#6a6a6a" stroke-width="1.1" />
<rect x="298.50" y="50.50" width="14.00" height="4.00" fill="none" stroke="#6a6a6a" stroke-width="0.8"/>
<line x1="298.90" y1="52.50" x2="312.30" y2="52.50" stroke="#6a6a6a" stroke-width="1.0" />
</g>
<line x1="350.50" y1="91.50" x2="350.50" y2="100.60" stroke="#6a6a6a" stroke-width="0.8" />
<line x1="350.50" y1="108.30" x2="350.50" y2="118.10" stroke="#6a6a6a" stroke-width="0.8" />
<rect x="318.50" y="100.50" width="63.00" height="8.00" fill="#fff" stroke="#6a6a6a" stroke-width="0.8"/>
<line x1="318.40" y1="107.50" x2="381.60" y2="107.50" stroke="#6a6a6a" stroke-width="1.1" />
<rect x="298.50" y="108.50" width="14.00" height="5.00" fill="none" stroke="#6a6a6a" stroke-width="0.8"/>
<line x1="298.90" y1="111.50" x2="312.30" y2="111.50" stroke="#6a6a6a" stroke-width="1.0" />
<circle cx="306.60" cy="91.00" r="1.25" fill="#3e5678" stroke="#1a1c20" stroke-width="0.6"/>
<circle cx="308.20" cy="102.10" r="1.25" fill="#3e5678" stroke="#1a1c20" stroke-width="0.6"/>
<circle cx="303.20" cy="103.80" r="1.25" fill="#3e5678" stroke="#1a1c20" stroke-width="0.6"/>
<circle cx="306.50" cy="118.20" r="1.25" fill="#3e5678" stroke="#1a1c20" stroke-width="0.6"/>
<circle cx="306.80" cy="122.10" r="1.25" fill="#3e5678" stroke="#1a1c20" stroke-width="0.6"/>
<circle cx="305.29" cy="112.33" r="1.25" fill="#3e5678" stroke="#1a1c20" stroke-width="0.6"/>
<circle cx="307.56" cy="106.35" r="1.25" fill="#3e5678" stroke="#1a1c20" stroke-width="0.6"/>
<circle cx="303.81" cy="114.10" r="1.25" fill="#3e5678" stroke="#1a1c20" stroke-width="0.6"/>
<circle cx="306.63" cy="111.68" r="1.25" fill="#3e5678" stroke="#1a1c20" stroke-width="0.6"/>
<circle cx="305.75" cy="112.37" r="1.25" fill="#3e5678" stroke="#1a1c20" stroke-width="0.6"/>
<circle cx="303.95" cy="109.80" r="1.25" fill="#3e5678" stroke="#1a1c20" stroke-width="0.6"/>
<circle cx="302.98" cy="112.67" r="1.25" fill="#3e5678" stroke="#1a1c20" stroke-width="0.6"/>
<circle cx="305.11" cy="109.39" r="1.25" fill="#3e5678" stroke="#1a1c20" stroke-width="0.6"/>
<circle cx="306.80" cy="105.76" r="1.25" fill="#3e5678" stroke="#1a1c20" stroke-width="0.6"/>
<circle cx="303.81" cy="109.61" r="1.25" fill="#3e5678" stroke="#1a1c20" stroke-width="0.6"/>
<circle cx="304.19" cy="108.33" r="1.25" fill="#3e5678" stroke="#1a1c20" stroke-width="0.6"/>
<circle cx="307.26" cy="106.60" r="1.25" fill="#3e5678" stroke="#1a1c20" stroke-width="0.6"/>
<circle cx="307.94" cy="105.30" r="1.25" fill="#3e5678" stroke="#1a1c20" stroke-width="0.6"/>
<circle cx="303.23" cy="114.16" r="1.25" fill="#3e5678" stroke="#1a1c20" stroke-width="0.6"/>
<circle cx="305.43" cy="109.56" r="1.25" fill="#3e5678" stroke="#1a1c20" stroke-width="0.6"/>
<circle cx="323.00" cy="102.90" r="1.25" fill="#c29c2c" stroke="#1a1c20" stroke-width="0.6"/>
<circle cx="321.00" cy="107.60" r="1.25" fill="#c29c2c" stroke="#1a1c20" stroke-width="0.6"/>
<circle cx="322.60" cy="110.00" r="1.25" fill="#c29c2c" stroke="#1a1c20" stroke-width="0.6"/>
<circle cx="325.00" cy="111.90" r="1.25" fill="#c29c2c" stroke="#1a1c20" stroke-width="0.6"/>
<circle cx="326.00" cy="119.00" r="1.25" fill="#c29c2c" stroke="#1a1c20" stroke-width="0.6"/>
<circle cx="343.70" cy="75.60" r="1.25" fill="#bc702a" stroke="#1a1c20" stroke-width="0.6"/>
<circle cx="341.00" cy="90.50" r="1.25" fill="#bc702a" stroke="#1a1c20" stroke-width="0.6"/>
<circle cx="340.00" cy="104.00" r="1.25" fill="#bc702a" stroke="#1a1c20" stroke-width="0.6"/>
<circle cx="342.50" cy="107.20" r="1.25" fill="#bc702a" stroke="#1a1c20" stroke-width="0.6"/>
<circle cx="340.50" cy="112.90" r="1.25" fill="#bc702a" stroke="#1a1c20" stroke-width="0.6"/>
<circle cx="342.50" cy="114.30" r="1.25" fill="#bc702a" stroke="#1a1c20" stroke-width="0.6"/>
<circle cx="357.50" cy="87.40" r="1.25" fill="#922d25" stroke="#1a1c20" stroke-width="0.6"/>
<circle cx="359.00" cy="93.40" r="1.25" fill="#922d25" stroke="#1a1c20" stroke-width="0.6"/>
<circle cx="361.70" cy="100.00" r="1.25" fill="#922d25" stroke="#1a1c20" stroke-width="0.6"/>
<circle cx="360.00" cy="102.90" r="1.25" fill="#922d25" stroke="#1a1c20" stroke-width="0.6"/>
<circle cx="358.00" cy="105.20" r="1.25" fill="#922d25" stroke="#1a1c20" stroke-width="0.6"/>
<circle cx="361.00" cy="108.10" r="1.25" fill="#922d25" stroke="#1a1c20" stroke-width="0.6"/>
<circle cx="357.00" cy="108.10" r="1.25" fill="#922d25" stroke="#1a1c20" stroke-width="0.6"/>
<circle cx="359.50" cy="112.00" r="1.25" fill="#922d25" stroke="#1a1c20" stroke-width="0.6"/>
<circle cx="375.00" cy="95.80" r="1.25" fill="#571313" stroke="#1a1c20" stroke-width="0.6"/>
<circle cx="375.70" cy="97.70" r="1.25" fill="#571313" stroke="#1a1c20" stroke-width="0.6"/>
<circle cx="378.00" cy="101.70" r="1.25" fill="#571313" stroke="#1a1c20" stroke-width="0.6"/>
<circle cx="377.00" cy="107.60" r="1.25" fill="#571313" stroke="#1a1c20" stroke-width="0.6"/>
<circle cx="377.50" cy="112.90" r="1.25" fill="#571313" stroke="#1a1c20" stroke-width="0.6"/>
<g opacity="0.5">
<rect x="318.50" y="100.50" width="63.00" height="8.00" fill="none" stroke="#6a6a6a" stroke-width="0.8"/>
<line x1="318.40" y1="107.50" x2="381.60" y2="107.50" stroke="#6a6a6a" stroke-width="1.1" />
<rect x="298.50" y="108.50" width="14.00" height="5.00" fill="none" stroke="#6a6a6a" stroke-width="0.8"/>
<line x1="298.90" y1="111.50" x2="312.30" y2="111.50" stroke="#6a6a6a" stroke-width="1.0" />
</g>
<line x1="350.50" y1="181.50" x2="350.50" y2="183.50" stroke="#6a6a6a" stroke-width="0.8" />
<line x1="350.50" y1="186.40" x2="350.50" y2="188.00" stroke="#6a6a6a" stroke-width="0.8" />
<rect x="318.50" y="183.50" width="63.00" height="3.00" fill="#a8a8a8" stroke="#6a6a6a" stroke-width="0.8"/>
<line x1="318.40" y1="185.50" x2="381.60" y2="185.50" stroke="#6a6a6a" stroke-width="1.1" />
<rect x="298.50" y="184.50" width="14.00" height="3.00" fill="none" stroke="#6a6a6a" stroke-width="0.8"/>
<line x1="298.90" y1="186.50" x2="312.30" y2="186.50" stroke="#6a6a6a" stroke-width="1.0" />
<circle cx="302.60" cy="190.80" r="1.25" fill="#3e5678" stroke="#1a1c20" stroke-width="0.6"/>
<circle cx="303.60" cy="189.50" r="1.25" fill="#3e5678" stroke="#1a1c20" stroke-width="0.6"/>
<circle cx="304.60" cy="188.40" r="1.25" fill="#3e5678" stroke="#1a1c20" stroke-width="0.6"/>
<circle cx="305.60" cy="187.30" r="1.25" fill="#3e5678" stroke="#1a1c20" stroke-width="0.6"/>
<circle cx="306.60" cy="186.20" r="1.25" fill="#3e5678" stroke="#1a1c20" stroke-width="0.6"/>
<circle cx="307.60" cy="185.20" r="1.25" fill="#3e5678" stroke="#1a1c20" stroke-width="0.6"/>
<circle cx="308.60" cy="184.20" r="1.25" fill="#3e5678" stroke="#1a1c20" stroke-width="0.6"/>
<circle cx="309.40" cy="183.40" r="1.25" fill="#3e5678" stroke="#1a1c20" stroke-width="0.6"/>
<circle cx="304.20" cy="190.20" r="1.25" fill="#3e5678" stroke="#1a1c20" stroke-width="0.6"/>
<circle cx="306.20" cy="188.20" r="1.25" fill="#3e5678" stroke="#1a1c20" stroke-width="0.6"/>
<circle cx="308.20" cy="186.20" r="1.25" fill="#3e5678" stroke="#1a1c20" stroke-width="0.6"/>
<circle cx="303.20" cy="188.30" r="1.25" fill="#3e5678" stroke="#1a1c20" stroke-width="0.6"/>
<circle cx="305.40" cy="185.60" r="1.25" fill="#3e5678" stroke="#1a1c20" stroke-width="0.6"/>
<circle cx="321.50" cy="182.50" r="1.25" fill="#c29c2c" stroke="#1a1c20" stroke-width="0.6"/>
<circle cx="323.50" cy="181.50" r="1.25" fill="#c29c2c" stroke="#1a1c20" stroke-width="0.6"/>
<circle cx="324.80" cy="183.50" r="1.25" fill="#c29c2c" stroke="#1a1c20" stroke-width="0.6"/>
<circle cx="322.30" cy="185.00" r="1.25" fill="#c29c2c" stroke="#1a1c20" stroke-width="0.6"/>
<circle cx="324.00" cy="186.00" r="1.25" fill="#c29c2c" stroke="#1a1c20" stroke-width="0.6"/>
<circle cx="321.20" cy="187.30" r="1.25" fill="#c29c2c" stroke="#1a1c20" stroke-width="0.6"/>
<circle cx="323.30" cy="188.60" r="1.25" fill="#c29c2c" stroke="#1a1c20" stroke-width="0.6"/>
<circle cx="325.50" cy="187.00" r="1.25" fill="#c29c2c" stroke="#1a1c20" stroke-width="0.6"/>
<circle cx="339.80" cy="184.50" r="1.25" fill="#bc702a" stroke="#1a1c20" stroke-width="0.6"/>
<circle cx="341.00" cy="186.00" r="1.25" fill="#bc702a" stroke="#1a1c20" stroke-width="0.6"/>
<circle cx="343.60" cy="184.70" r="1.25" fill="#bc702a" stroke="#1a1c20" stroke-width="0.6"/>
<circle cx="344.60" cy="186.00" r="1.25" fill="#bc702a" stroke="#1a1c20" stroke-width="0.6"/>
<circle cx="357.50" cy="186.50" r="1.25" fill="#922d25" stroke="#1a1c20" stroke-width="0.6"/>
<circle cx="359.00" cy="184.50" r="1.25" fill="#922d25" stroke="#1a1c20" stroke-width="0.6"/>
<circle cx="360.50" cy="183.00" r="1.25" fill="#922d25" stroke="#1a1c20" stroke-width="0.6"/>
<circle cx="361.80" cy="181.80" r="1.25" fill="#922d25" stroke="#1a1c20" stroke-width="0.6"/>
<circle cx="358.30" cy="188.20" r="1.25" fill="#922d25" stroke="#1a1c20" stroke-width="0.6"/>
<circle cx="359.80" cy="187.00" r="1.25" fill="#922d25" stroke="#1a1c20" stroke-width="0.6"/>
<circle cx="361.00" cy="185.50" r="1.25" fill="#922d25" stroke="#1a1c20" stroke-width="0.6"/>
<circle cx="357.00" cy="185.00" r="1.25" fill="#922d25" stroke="#1a1c20" stroke-width="0.6"/>
<circle cx="374.50" cy="186.00" r="1.25" fill="#571313" stroke="#1a1c20" stroke-width="0.6"/>
<circle cx="376.00" cy="184.50" r="1.25" fill="#571313" stroke="#1a1c20" stroke-width="0.6"/>
<circle cx="377.50" cy="183.20" r="1.25" fill="#571313" stroke="#1a1c20" stroke-width="0.6"/>
<circle cx="379.00" cy="184.80" r="1.25" fill="#571313" stroke="#1a1c20" stroke-width="0.6"/>
<circle cx="380.00" cy="186.50" r="1.25" fill="#571313" stroke="#1a1c20" stroke-width="0.6"/>
<circle cx="376.50" cy="187.80" r="1.25" fill="#571313" stroke="#1a1c20" stroke-width="0.6"/>
<circle cx="378.30" cy="188.30" r="1.25" fill="#571313" stroke="#1a1c20" stroke-width="0.6"/>
<circle cx="375.30" cy="183.50" r="1.25" fill="#571313" stroke="#1a1c20" stroke-width="0.6"/>
<g opacity="0.5">
<rect x="318.50" y="183.50" width="63.00" height="3.00" fill="none" stroke="#6a6a6a" stroke-width="0.8"/>
<line x1="318.40" y1="185.50" x2="381.60" y2="185.50" stroke="#6a6a6a" stroke-width="1.1" />
<rect x="298.50" y="184.50" width="14.00" height="3.00" fill="none" stroke="#6a6a6a" stroke-width="0.8"/>
<line x1="298.90" y1="186.50" x2="312.30" y2="186.50" stroke="#6a6a6a" stroke-width="1.0" />
</g>
<line x1="305.50" y1="196.80" x2="305.50" y2="198.80" stroke="#333" stroke-width="0.6" />
<line x1="323.50" y1="196.80" x2="323.50" y2="198.80" stroke="#333" stroke-width="0.6" />
<line x1="341.50" y1="196.80" x2="341.50" y2="198.80" stroke="#333" stroke-width="0.6" />
<line x1="359.50" y1="196.80" x2="359.50" y2="198.80" stroke="#333" stroke-width="0.6" />
<line x1="377.50" y1="196.80" x2="377.50" y2="198.80" stroke="#333" stroke-width="0.6" />
<text x="323.40" y="206.10" font-size="6.3" text-anchor="middle" font-weight="normal" font-style="normal" fill="#333" stroke="#333" stroke-width="0.22" >St I</text>
<text x="341.40" y="206.10" font-size="6.3" text-anchor="middle" font-weight="normal" font-style="normal" fill="#333" stroke="#333" stroke-width="0.22" >St II</text>
<text x="359.30" y="206.10" font-size="6.3" text-anchor="middle" font-weight="normal" font-style="normal" fill="#333" stroke="#333" stroke-width="0.22" >St III</text>
<text x="377.30" y="206.10" font-size="6.3" text-anchor="middle" font-weight="normal" font-style="normal" fill="#333" stroke="#333" stroke-width="0.22" >St IV</text>
<text x="306.60" y="201.80" font-size="5.7" text-anchor="end" font-weight="normal" font-style="normal" fill="#333" stroke="#333" stroke-width="0.22" transform="rotate(-45 306.6 201.8)">Healthy</text>
<line x1="317.40" y1="208.50" x2="384.40" y2="208.50" stroke="#333" stroke-width="0.7" />
<text x="351.40" y="217.60" font-size="6.6" text-anchor="middle" font-weight="bold" font-style="normal" fill="#333"  >CRC</text>
<text x="282.10" y="100.40" font-size="6.9" text-anchor="middle" font-weight="normal" font-style="normal" fill="#1a1a1a" stroke="#1a1a1a" stroke-width="0.22" transform="rotate(-90 282.1 100.4)">Ratio of copies per ng</text>
<text x="275.40" y="6.70" font-size="7.9" text-anchor="start" font-weight="bold" font-style="normal" fill="#000"  >C</text>
<rect x="25.50" y="232.50" width="362.00" height="94.00" fill="none" stroke="#8c8c8c" stroke-width="0.8"/>
<line x1="22.60" y1="318.50" x2="25.40" y2="318.50" stroke="#333" stroke-width="0.6" />
<text x="21.70" y="320.80" font-size="6.7" text-anchor="end" font-weight="normal" font-style="normal" fill="#333" stroke="#333" stroke-width="0.22" >0</text>
<line x1="22.60" y1="290.50" x2="25.40" y2="290.50" stroke="#333" stroke-width="0.6" />
<text x="21.70" y="293.10" font-size="6.7" text-anchor="end" font-weight="normal" font-style="normal" fill="#333" stroke="#333" stroke-width="0.22" >200</text>
<line x1="22.60" y1="263.50" x2="25.40" y2="263.50" stroke="#333" stroke-width="0.6" />
<text x="21.70" y="265.40" font-size="6.7" text-anchor="end" font-weight="normal" font-style="normal" fill="#333" stroke="#333" stroke-width="0.22" >400</text>
<line x1="22.60" y1="235.50" x2="25.40" y2="235.50" stroke="#333" stroke-width="0.6" />
<text x="21.70" y="237.70" font-size="6.7" text-anchor="end" font-weight="normal" font-style="normal" fill="#333" stroke="#333" stroke-width="0.22" >600</text>
<text x="88.90" y="334.70" font-size="6.9" text-anchor="middle" font-weight="bold" font-style="normal" fill="#1a1a1a"  >OCR1</text>
<text x="208.80" y="334.70" font-size="6.9" text-anchor="middle" font-weight="bold" font-style="normal" fill="#1a1a1a"  >OCR2</text>
<text x="324.70" y="334.70" font-size="6.9" text-anchor="middle" font-weight="bold" font-style="normal" fill="#1a1a1a"  >CCR</text>
<text x="6.40" y="275.40" font-size="7.0" text-anchor="middle" font-weight="normal" font-style="normal" fill="#1a1a1a" stroke="#1a1a1a" stroke-width="0.22" transform="rotate(-90 6.4 275.4)">Difference in copies per ng</text>
<text x="2.60" y="226.80" font-size="7.9" text-anchor="start" font-weight="bold" font-style="normal" fill="#000"  >B</text>
<text x="326.30" y="240.80" font-size="5.1" text-anchor="start" font-weight="normal" font-style="italic" fill="#333"  >p &lt; 0.005</text>
<text x="326.30" y="247.10" font-size="5.1" text-anchor="start" font-weight="normal" font-style="italic" fill="#333"  >Levene's test for</text>
<text x="326.30" y="253.40" font-size="5.1" text-anchor="start" font-weight="normal" font-style="italic" fill="#333"  >homogeneity of variance</text>
<text x="326.30" y="259.70" font-size="5.1" text-anchor="start" font-weight="normal" font-style="italic" fill="#333"  >in CRC groups</text>
<line x1="65.50" y1="262.40" x2="65.50" y2="285.30" stroke="#4d4d4d" stroke-width="0.6" />
<line x1="65.50" y1="303.50" x2="65.50" y2="320.50" stroke="#4d4d4d" stroke-width="0.6" />
<rect x="43.50" y="285.50" width="44.00" height="18.00" fill="none" stroke="#4d4d4d" stroke-width="0.6"/>
<line x1="43.30" y1="293.50" x2="87.30" y2="293.50" stroke="#4d4d4d" stroke-width="1.0" />
<line x1="113.50" y1="269.50" x2="113.50" y2="285.00" stroke="#4d4d4d" stroke-width="0.6" />
<line x1="113.50" y1="299.00" x2="113.50" y2="315.80" stroke="#4d4d4d" stroke-width="0.6" />
<rect x="91.50" y="285.50" width="45.00" height="14.00" fill="none" stroke="#4d4d4d" stroke-width="0.6"/>
<line x1="91.55" y1="292.50" x2="136.05" y2="292.50" stroke="#4d4d4d" stroke-width="1.0" />
<line x1="182.50" y1="281.00" x2="182.50" y2="288.40" stroke="#4d4d4d" stroke-width="0.6" />
<line x1="182.50" y1="302.10" x2="182.50" y2="315.00" stroke="#4d4d4d" stroke-width="0.6" />
<rect x="160.50" y="288.50" width="44.00" height="14.00" fill="none" stroke="#4d4d4d" stroke-width="0.6"/>
<line x1="160.30" y1="296.50" x2="204.70" y2="296.50" stroke="#4d4d4d" stroke-width="1.0" />
<line x1="230.50" y1="251.80" x2="230.50" y2="279.90" stroke="#4d4d4d" stroke-width="0.6" />
<line x1="230.50" y1="299.30" x2="230.50" y2="309.00" stroke="#4d4d4d" stroke-width="0.6" />
<rect x="208.50" y="279.50" width="44.00" height="20.00" fill="none" stroke="#4d4d4d" stroke-width="0.6"/>
<line x1="208.40" y1="292.50" x2="252.80" y2="292.50" stroke="#4d4d4d" stroke-width="1.0" />
<line x1="299.50" y1="306.50" x2="299.50" y2="309.20" stroke="#4d4d4d" stroke-width="0.6" />
<line x1="299.50" y1="314.80" x2="299.50" y2="317.00" stroke="#4d4d4d" stroke-width="0.6" />
<rect x="277.50" y="309.50" width="44.00" height="5.00" fill="none" stroke="#4d4d4d" stroke-width="0.6"/>
<line x1="277.00" y1="310.50" x2="321.60" y2="310.50" stroke="#4d4d4d" stroke-width="1.0" />
<line x1="347.50" y1="296.20" x2="347.50" y2="302.40" stroke="#4d4d4d" stroke-width="0.6" />
<line x1="347.50" y1="308.60" x2="347.50" y2="314.20" stroke="#4d4d4d" stroke-width="0.6" />
<rect x="325.50" y="302.50" width="44.00" height="6.00" fill="none" stroke="#4d4d4d" stroke-width="0.6"/>
<line x1="325.10" y1="305.50" x2="369.70" y2="305.50" stroke="#4d4d4d" stroke-width="1.0" />
<circle cx="73.00" cy="257.90" r="1.35" fill="#3e5678" stroke="#1a1c20" stroke-width="0.55"/>
<circle cx="72.00" cy="262.00" r="1.35" fill="#3e5678" stroke="#1a1c20" stroke-width="0.55"/>
<circle cx="59.50" cy="279.70" r="1.35" fill="#3e5678" stroke="#1a1c20" stroke-width="0.55"/>
<circle cx="64.70" cy="280.70" r="1.35" fill="#3e5678" stroke="#1a1c20" stroke-width="0.55"/>
<circle cx="65.70" cy="282.80" r="1.35" fill="#3e5678" stroke="#1a1c20" stroke-width="0.55"/>
<circle cx="59.50" cy="284.90" r="1.35" fill="#3e5678" stroke="#1a1c20" stroke-width="0.55"/>
<circle cx="71.00" cy="284.20" r="1.35" fill="#3e5678" stroke="#1a1c20" stroke-width="0.55"/>
<circle cx="61.60" cy="287.30" r="1.35" fill="#3e5678" stroke="#1a1c20" stroke-width="0.55"/>
<circle cx="59.50" cy="289.80" r="1.35" fill="#3e5678" stroke="#1a1c20" stroke-width="0.55"/>
<circle cx="63.30" cy="289.40" r="1.35" fill="#3e5678" stroke="#1a1c20" stroke-width="0.55"/>
<circle cx="73.00" cy="289.00" r="1.35" fill="#3e5678" stroke="#1a1c20" stroke-width="0.55"/>
<circle cx="62.60" cy="292.50" r="1.35" fill="#3e5678" stroke="#1a1c20" stroke-width="0.55"/>
<circle cx="66.80" cy="294.60" r="1.35" fill="#3e5678" stroke="#1a1c20" stroke-width="0.55"/>
<circle cx="69.50" cy="295.20" r="1.35" fill="#3e5678" stroke="#1a1c20" stroke-width="0.55"/>
<circle cx="71.00" cy="293.60" r="1.35" fill="#3e5678" stroke="#1a1c20" stroke-width="0.55"/>
<circle cx="60.60" cy="300.80" r="1.35" fill="#3e5678" stroke="#1a1c20" stroke-width="0.55"/>
<circle cx="64.70" cy="299.80" r="1.35" fill="#3e5678" stroke="#1a1c20" stroke-width="0.55"/>
<circle cx="58.50" cy="303.50" r="1.35" fill="#3e5678" stroke="#1a1c20" stroke-width="0.55"/>
<circle cx="67.80" cy="302.30" r="1.35" fill="#3e5678" stroke="#1a1c20" stroke-width="0.55"/>
<circle cx="71.00" cy="303.50" r="1.35" fill="#3e5678" stroke="#1a1c20" stroke-width="0.55"/>
<circle cx="73.60" cy="300.80" r="1.35" fill="#3e5678" stroke="#1a1c20" stroke-width="0.55"/>
<circle cx="57.40" cy="306.00" r="1.35" fill="#3e5678" stroke="#1a1c20" stroke-width="0.55"/>
<circle cx="63.70" cy="305.60" r="1.35" fill="#3e5678" stroke="#1a1c20" stroke-width="0.55"/>
<circle cx="65.70" cy="308.50" r="1.35" fill="#3e5678" stroke="#1a1c20" stroke-width="0.55"/>
<circle cx="69.90" cy="306.40" r="1.35" fill="#3e5678" stroke="#1a1c20" stroke-width="0.55"/>
<circle cx="69.50" cy="321.60" r="1.35" fill="#3e5678" stroke="#1a1c20" stroke-width="0.55"/>
<circle cx="120.75" cy="236.50" r="1.35" fill="#571313" stroke="#1a1c20" stroke-width="0.55"/>
<circle cx="120.00" cy="242.00" r="1.35" fill="#bc702a" stroke="#1a1c20" stroke-width="0.55"/>
<circle cx="107.50" cy="245.75" r="1.35" fill="#bc702a" stroke="#1a1c20" stroke-width="0.55"/>
<circle cx="114.50" cy="258.25" r="1.35" fill="#bc702a" stroke="#1a1c20" stroke-width="0.55"/>
<circle cx="112.00" cy="263.25" r="1.35" fill="#c29c2c" stroke="#1a1c20" stroke-width="0.55"/>
<circle cx="109.50" cy="270.00" r="1.35" fill="#571313" stroke="#1a1c20" stroke-width="0.55"/>
<circle cx="120.75" cy="272.50" r="1.35" fill="#571313" stroke="#1a1c20" stroke-width="0.55"/>
<circle cx="105.50" cy="276.70" r="1.35" fill="#571313" stroke="#1a1c20" stroke-width="0.55"/>
<circle cx="112.60" cy="276.70" r="1.35" fill="#922d25" stroke="#1a1c20" stroke-width="0.55"/>
<circle cx="108.80" cy="282.50" r="1.35" fill="#bc702a" stroke="#1a1c20" stroke-width="0.55"/>
<circle cx="105.10" cy="285.00" r="1.35" fill="#922d25" stroke="#1a1c20" stroke-width="0.55"/>
<circle cx="107.20" cy="285.80" r="1.35" fill="#c29c2c" stroke="#1a1c20" stroke-width="0.55"/>
<circle cx="110.50" cy="285.80" r="1.35" fill="#922d25" stroke="#1a1c20" stroke-width="0.55"/>
<circle cx="117.20" cy="282.10" r="1.35" fill="#bc702a" stroke="#1a1c20" stroke-width="0.55"/>
<circle cx="117.60" cy="285.00" r="1.35" fill="#bc702a" stroke="#1a1c20" stroke-width="0.55"/>
<circle cx="119.60" cy="288.30" r="1.35" fill="#c29c2c" stroke="#1a1c20" stroke-width="0.55"/>
<circle cx="121.30" cy="285.80" r="1.35" fill="#571313" stroke="#1a1c20" stroke-width="0.55"/>
<circle cx="120.50" cy="290.40" r="1.35" fill="#c29c2c" stroke="#1a1c20" stroke-width="0.55"/>
<circle cx="107.60" cy="290.00" r="1.35" fill="#bc702a" stroke="#1a1c20" stroke-width="0.55"/>
<circle cx="108.00" cy="292.00" r="1.35" fill="#c29c2c" stroke="#1a1c20" stroke-width="0.55"/>
<circle cx="113.40" cy="291.70" r="1.35" fill="#571313" stroke="#1a1c20" stroke-width="0.55"/>
<circle cx="114.20" cy="295.00" r="1.35" fill="#922d25" stroke="#1a1c20" stroke-width="0.55"/>
<circle cx="121.70" cy="295.00" r="1.35" fill="#571313" stroke="#1a1c20" stroke-width="0.55"/>
<circle cx="106.30" cy="296.30" r="1.35" fill="#bc702a" stroke="#1a1c20" stroke-width="0.55"/>
<circle cx="108.00" cy="297.90" r="1.35" fill="#571313" stroke="#1a1c20" stroke-width="0.55"/>
<circle cx="111.70" cy="297.50" r="1.35" fill="#c29c2c" stroke="#1a1c20" stroke-width="0.55"/>
<circle cx="114.70" cy="298.80" r="1.35" fill="#bc702a" stroke="#1a1c20" stroke-width="0.55"/>
<circle cx="118.40" cy="299.20" r="1.35" fill="#922d25" stroke="#1a1c20" stroke-width="0.55"/>
<circle cx="109.70" cy="300.00" r="1.35" fill="#571313" stroke="#1a1c20" stroke-width="0.55"/>
<circle cx="112.60" cy="300.80" r="1.35" fill="#bc702a" stroke="#1a1c20" stroke-width="0.55"/>
<circle cx="115.90" cy="300.80" r="1.35" fill="#c29c2c" stroke="#1a1c20" stroke-width="0.55"/>
<circle cx="110.50" cy="303.30" r="1.35" fill="#922d25" stroke="#1a1c20" stroke-width="0.55"/>
<circle cx="117.20" cy="302.50" r="1.35" fill="#bc702a" stroke="#1a1c20" stroke-width="0.55"/>
<circle cx="120.90" cy="304.20" r="1.35" fill="#c29c2c" stroke="#1a1c20" stroke-width="0.55"/>
<circle cx="112.00" cy="305.75" r="1.35" fill="#bc702a" stroke="#1a1c20" stroke-width="0.55"/>
<circle cx="119.50" cy="304.50" r="1.35" fill="#571313" stroke="#1a1c20" stroke-width="0.55"/>
<circle cx="113.25" cy="309.50" r="1.35" fill="#bc702a" stroke="#1a1c20" stroke-width="0.55"/>
<circle cx="122.50" cy="314.50" r="1.35" fill="#922d25" stroke="#1a1c20" stroke-width="0.55"/>
<circle cx="119.50" cy="316.50" r="1.35" fill="#c29c2c" stroke="#1a1c20" stroke-width="0.55"/>
<circle cx="173.90" cy="282.70" r="1.35" fill="#3e5678" stroke="#1a1c20" stroke-width="0.55"/>
<circle cx="176.30" cy="281.10" r="1.35" fill="#3e5678" stroke="#1a1c20" stroke-width="0.55"/>
<circle cx="185.60" cy="280.80" r="1.35" fill="#3e5678" stroke="#1a1c20" stroke-width="0.55"/>
<circle cx="187.00" cy="285.50" r="1.35" fill="#3e5678" stroke="#1a1c20" stroke-width="0.55"/>
<circle cx="188.40" cy="287.30" r="1.35" fill="#3e5678" stroke="#1a1c20" stroke-width="0.55"/>
<circle cx="182.20" cy="288.00" r="1.35" fill="#3e5678" stroke="#1a1c20" stroke-width="0.55"/>
<circle cx="180.80" cy="290.50" r="1.35" fill="#3e5678" stroke="#1a1c20" stroke-width="0.55"/>
<circle cx="184.20" cy="289.40" r="1.35" fill="#3e5678" stroke="#1a1c20" stroke-width="0.55"/>
<circle cx="174.50" cy="292.20" r="1.35" fill="#3e5678" stroke="#1a1c20" stroke-width="0.55"/>
<circle cx="175.20" cy="295.60" r="1.35" fill="#3e5678" stroke="#1a1c20" stroke-width="0.55"/>
<circle cx="188.40" cy="294.20" r="1.35" fill="#3e5678" stroke="#1a1c20" stroke-width="0.55"/>
<circle cx="191.20" cy="296.30" r="1.35" fill="#3e5678" stroke="#1a1c20" stroke-width="0.55"/>
<circle cx="174.50" cy="301.20" r="1.35" fill="#3e5678" stroke="#1a1c20" stroke-width="0.55"/>
<circle cx="182.90" cy="299.80" r="1.35" fill="#3e5678" stroke="#1a1c20" stroke-width="0.55"/>
<circle cx="184.20" cy="302.50" r="1.35" fill="#3e5678" stroke="#1a1c20" stroke-width="0.55"/>
<circle cx="186.30" cy="304.60" r="1.35" fill="#3e5678" stroke="#1a1c20" stroke-width="0.55"/>
<circle cx="189.80" cy="303.20" r="1.35" fill="#3e5678" stroke="#1a1c20" stroke-width="0.55"/>
<circle cx="173.90" cy="308.10" r="1.35" fill="#3e5678" stroke="#1a1c20" stroke-width="0.55"/>
<circle cx="182.90" cy="307.70" r="1.35" fill="#3e5678" stroke="#1a1c20" stroke-width="0.55"/>
<circle cx="188.40" cy="307.70" r="1.35" fill="#3e5678" stroke="#1a1c20" stroke-width="0.55"/>
<circle cx="175.90" cy="314.60" r="1.35" fill="#3e5678" stroke="#1a1c20" stroke-width="0.55"/>
<circle cx="236.50" cy="251.20" r="1.35" fill="#571313" stroke="#1a1c20" stroke-width="0.55"/>
<circle cx="236.50" cy="255.10" r="1.35" fill="#bc702a" stroke="#1a1c20" stroke-width="0.55"/>
<circle cx="225.40" cy="259.50" r="1.35" fill="#bc702a" stroke="#1a1c20" stroke-width="0.55"/>
<circle cx="222.90" cy="265.30" r="1.35" fill="#571313" stroke="#1a1c20" stroke-width="0.55"/>
<circle cx="235.70" cy="263.40" r="1.35" fill="#bc702a" stroke="#1a1c20" stroke-width="0.55"/>
<circle cx="236.50" cy="277.00" r="1.35" fill="#571313" stroke="#1a1c20" stroke-width="0.55"/>
<circle cx="239.00" cy="279.90" r="1.35" fill="#571313" stroke="#1a1c20" stroke-width="0.55"/>
<circle cx="230.30" cy="279.90" r="1.35" fill="#922d25" stroke="#1a1c20" stroke-width="0.55"/>
<circle cx="225.40" cy="282.80" r="1.35" fill="#bc702a" stroke="#1a1c20" stroke-width="0.55"/>
<circle cx="225.40" cy="286.70" r="1.35" fill="#922d25" stroke="#1a1c20" stroke-width="0.55"/>
<circle cx="228.30" cy="289.60" r="1.35" fill="#571313" stroke="#1a1c20" stroke-width="0.55"/>
<circle cx="239.00" cy="288.60" r="1.35" fill="#571313" stroke="#1a1c20" stroke-width="0.55"/>
<circle cx="232.20" cy="293.10" r="1.35" fill="#c29c2c" stroke="#1a1c20" stroke-width="0.55"/>
<circle cx="235.70" cy="293.80" r="1.35" fill="#922d25" stroke="#1a1c20" stroke-width="0.55"/>
<circle cx="238.00" cy="293.40" r="1.35" fill="#571313" stroke="#1a1c20" stroke-width="0.55"/>
<circle cx="226.40" cy="293.40" r="1.35" fill="#922d25" stroke="#1a1c20" stroke-width="0.55"/>
<circle cx="223.50" cy="297.00" r="1.35" fill="#922d25" stroke="#1a1c20" stroke-width="0.55"/>
<circle cx="226.40" cy="298.30" r="1.35" fill="#c29c2c" stroke="#1a1c20" stroke-width="0.55"/>
<circle cx="229.90" cy="297.30" r="1.35" fill="#571313" stroke="#1a1c20" stroke-width="0.55"/>
<circle cx="239.00" cy="300.20" r="1.35" fill="#571313" stroke="#1a1c20" stroke-width="0.55"/>
<circle cx="235.10" cy="302.80" r="1.35" fill="#bc702a" stroke="#1a1c20" stroke-width="0.55"/>
<circle cx="222.50" cy="309.00" r="1.35" fill="#c29c2c" stroke="#1a1c20" stroke-width="0.55"/>
<circle cx="229.90" cy="306.60" r="1.35" fill="#c29c2c" stroke="#1a1c20" stroke-width="0.55"/>
<circle cx="236.10" cy="309.00" r="1.35" fill="#922d25" stroke="#1a1c20" stroke-width="0.55"/>
<circle cx="238.00" cy="309.30" r="1.35" fill="#922d25" stroke="#1a1c20" stroke-width="0.55"/>
<circle cx="296.50" cy="303.00" r="1.35" fill="#3e5678" stroke="#1a1c20" stroke-width="0.55"/>
<circle cx="299.50" cy="304.50" r="1.35" fill="#3e5678" stroke="#1a1c20" stroke-width="0.55"/>
<circle cx="296.00" cy="309.50" r="1.35" fill="#3e5678" stroke="#1a1c20" stroke-width="0.55"/>
<circle cx="291.50" cy="311.50" r="1.35" fill="#3e5678" stroke="#1a1c20" stroke-width="0.55"/>
<circle cx="292.50" cy="313.00" r="1.35" fill="#3e5678" stroke="#1a1c20" stroke-width="0.55"/>
<circle cx="291.20" cy="316.20" r="1.35" fill="#3e5678" stroke="#1a1c20" stroke-width="0.55"/>
<circle cx="307.00" cy="316.50" r="1.35" fill="#3e5678" stroke="#1a1c20" stroke-width="0.55"/>
<circle cx="294.00" cy="310.50" r="1.35" fill="#3e5678" stroke="#1a1c20" stroke-width="0.55"/>
<circle cx="298.00" cy="311.50" r="1.35" fill="#3e5678" stroke="#1a1c20" stroke-width="0.55"/>
<circle cx="344.70" cy="296.80" r="1.35" fill="#571313" stroke="#1a1c20" stroke-width="0.55"/>
<circle cx="351.40" cy="295.70" r="1.35" fill="#571313" stroke="#1a1c20" stroke-width="0.55"/>
<circle cx="355.40" cy="299.10" r="1.35" fill="#bc702a" stroke="#1a1c20" stroke-width="0.55"/>
<circle cx="340.70" cy="303.00" r="1.35" fill="#c29c2c" stroke="#1a1c20" stroke-width="0.55"/>
<circle cx="343.00" cy="304.70" r="1.35" fill="#bc702a" stroke="#1a1c20" stroke-width="0.55"/>
<circle cx="345.80" cy="303.60" r="1.35" fill="#571313" stroke="#1a1c20" stroke-width="0.55"/>
<circle cx="347.50" cy="302.40" r="1.35" fill="#922d25" stroke="#1a1c20" stroke-width="0.55"/>
<circle cx="350.90" cy="303.00" r="1.35" fill="#bc702a" stroke="#1a1c20" stroke-width="0.55"/>
<circle cx="354.80" cy="303.60" r="1.35" fill="#571313" stroke="#1a1c20" stroke-width="0.55"/>
<circle cx="345.80" cy="306.90" r="1.35" fill="#922d25" stroke="#1a1c20" stroke-width="0.55"/>
<circle cx="349.20" cy="308.60" r="1.35" fill="#571313" stroke="#1a1c20" stroke-width="0.55"/>
<circle cx="352.00" cy="308.00" r="1.35" fill="#922d25" stroke="#1a1c20" stroke-width="0.55"/>
<circle cx="354.80" cy="307.50" r="1.35" fill="#571313" stroke="#1a1c20" stroke-width="0.55"/>
<circle cx="349.20" cy="310.30" r="1.35" fill="#922d25" stroke="#1a1c20" stroke-width="0.55"/>
<circle cx="341.30" cy="312.60" r="1.35" fill="#c29c2c" stroke="#1a1c20" stroke-width="0.55"/>
<circle cx="339.10" cy="315.10" r="1.35" fill="#c29c2c" stroke="#1a1c20" stroke-width="0.55"/>
<circle cx="346.90" cy="315.40" r="1.35" fill="#571313" stroke="#1a1c20" stroke-width="0.55"/>
<circle cx="350.90" cy="316.30" r="1.35" fill="#c29c2c" stroke="#1a1c20" stroke-width="0.55"/>
<g opacity="0.75">
<rect x="43.50" y="285.50" width="44.00" height="18.00" fill="none" stroke="#4d4d4d" stroke-width="0.6"/>
<line x1="43.30" y1="293.50" x2="87.30" y2="293.50" stroke="#4d4d4d" stroke-width="1.0" />
<rect x="91.50" y="285.50" width="45.00" height="14.00" fill="none" stroke="#4d4d4d" stroke-width="0.6"/>
<line x1="91.55" y1="292.50" x2="136.05" y2="292.50" stroke="#4d4d4d" stroke-width="1.0" />
<rect x="160.50" y="288.50" width="44.00" height="14.00" fill="none" stroke="#4d4d4d" stroke-width="0.6"/>
<line x1="160.30" y1="296.50" x2="204.70" y2="296.50" stroke="#4d4d4d" stroke-width="1.0" />
<rect x="208.50" y="279.50" width="44.00" height="20.00" fill="none" stroke="#4d4d4d" stroke-width="0.6"/>
<line x1="208.40" y1="292.50" x2="252.80" y2="292.50" stroke="#4d4d4d" stroke-width="1.0" />
<rect x="277.50" y="309.50" width="44.00" height="5.00" fill="none" stroke="#4d4d4d" stroke-width="0.6"/>
<line x1="277.00" y1="310.50" x2="321.60" y2="310.50" stroke="#4d4d4d" stroke-width="1.0" />
<rect x="325.50" y="302.50" width="44.00" height="6.00" fill="none" stroke="#4d4d4d" stroke-width="0.6"/>
<line x1="325.10" y1="305.50" x2="369.70" y2="305.50" stroke="#4d4d4d" stroke-width="1.0" />
</g>
<text x="112.00" y="349.80" font-size="7.75" text-anchor="start" font-weight="normal" font-style="normal" fill="#1a1a1a" stroke="#1a1a1a" stroke-width="0.22" >Sample type</text>
<circle cx="169.00" cy="347.30" r="1.2" fill="#3e5678" stroke="#1a1c20" stroke-width="0.5"/>
<text x="174.00" y="349.60" font-size="6.4" text-anchor="start" font-weight="normal" font-style="normal" fill="#1a1a1a" stroke="#1a1a1a" stroke-width="0.22" >Healthy</text>
<circle cx="208.00" cy="347.30" r="1.2" fill="#c29c2c" stroke="#1a1c20" stroke-width="0.5"/>
<text x="212.40" y="349.60" font-size="6.4" text-anchor="start" font-weight="normal" font-style="normal" fill="#1a1a1a" stroke="#1a1a1a" stroke-width="0.22" >St I</text>
<circle cx="227.70" cy="347.30" r="1.2" fill="#bc702a" stroke="#1a1c20" stroke-width="0.5"/>
<text x="232.00" y="349.60" font-size="6.4" text-anchor="start" font-weight="normal" font-style="normal" fill="#1a1a1a" stroke="#1a1a1a" stroke-width="0.22" >St II</text>
<circle cx="250.00" cy="347.30" r="1.2" fill="#922d25" stroke="#1a1c20" stroke-width="0.5"/>
<text x="253.80" y="349.60" font-size="6.4" text-anchor="start" font-weight="normal" font-style="normal" fill="#1a1a1a" stroke="#1a1a1a" stroke-width="0.22" >St III</text>
<circle cx="273.00" cy="347.30" r="1.2" fill="#571313" stroke="#1a1c20" stroke-width="0.5"/>
<text x="277.00" y="349.60" font-size="6.4" text-anchor="start" font-weight="normal" font-style="normal" fill="#1a1a1a" stroke="#1a1a1a" stroke-width="0.22" >St IV</text>
<line x1="203.80" y1="352.50" x2="290.50" y2="352.50" stroke="#444" stroke-width="0.6" />
<text x="247.50" y="359.80" font-size="6.5" text-anchor="middle" font-weight="normal" font-style="normal" fill="#1a1a1a" stroke="#1a1a1a" stroke-width="0.22" >CRC</text>
</svg>
</body></html>
